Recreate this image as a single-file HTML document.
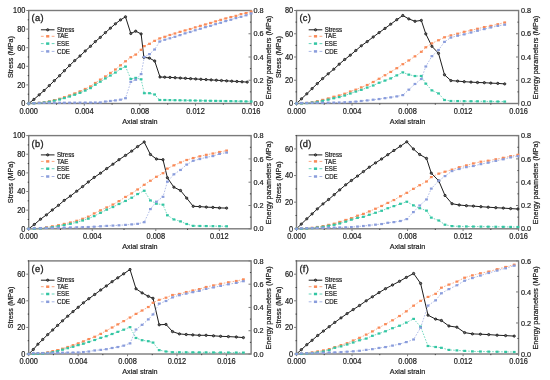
<!DOCTYPE html>
<html><head><meta charset="utf-8"><style>
html,body{margin:0;padding:0;background:#fff;}
svg{display:block;will-change:transform;}
text{font-family:"Liberation Sans", sans-serif;fill:#222;stroke:#222;stroke-width:0.2px;}
</style></head><body>
<svg width="550" height="380" viewBox="0 0 550 380">
<rect width="550" height="380" fill="#fff"/>
<rect x="28.7" y="10.5" width="222.4" height="93" fill="none" stroke="#7a7a7a" stroke-width="1.4"/>
<line x1="28.7" y1="103.5" x2="28.7" y2="105.7" stroke="#7a7a7a" stroke-width="1"/>
<text transform="translate(28.7,113.65) scale(1.0,1.14)" text-anchor="middle" font-size="7.4">0.000</text>
<line x1="84.3" y1="103.5" x2="84.3" y2="105.7" stroke="#7a7a7a" stroke-width="1"/>
<text transform="translate(84.3,113.65) scale(1.0,1.14)" text-anchor="middle" font-size="7.4">0.004</text>
<line x1="139.9" y1="103.5" x2="139.9" y2="105.7" stroke="#7a7a7a" stroke-width="1"/>
<text transform="translate(139.9,113.65) scale(1.0,1.14)" text-anchor="middle" font-size="7.4">0.008</text>
<line x1="195.5" y1="103.5" x2="195.5" y2="105.7" stroke="#7a7a7a" stroke-width="1"/>
<text transform="translate(195.5,113.65) scale(1.0,1.14)" text-anchor="middle" font-size="7.4">0.012</text>
<line x1="251.1" y1="103.5" x2="251.1" y2="105.7" stroke="#7a7a7a" stroke-width="1"/>
<text transform="translate(251.1,113.65) scale(1.0,1.14)" text-anchor="middle" font-size="7.4">0.016</text>
<line x1="56.5" y1="103.5" x2="56.5" y2="104.7" stroke="#333" stroke-width="0.9"/>
<line x1="112.1" y1="103.5" x2="112.1" y2="104.7" stroke="#333" stroke-width="0.9"/>
<line x1="167.7" y1="103.5" x2="167.7" y2="104.7" stroke="#333" stroke-width="0.9"/>
<line x1="223.3" y1="103.5" x2="223.3" y2="104.7" stroke="#333" stroke-width="0.9"/>
<line x1="26.3" y1="103.5" x2="28.7" y2="103.5" stroke="#7a7a7a" stroke-width="1"/>
<text transform="translate(25.3,106.3) scale(1.0,1.14)" text-anchor="end" font-size="7.35">0</text>
<line x1="26.3" y1="84.9" x2="28.7" y2="84.9" stroke="#7a7a7a" stroke-width="1"/>
<text transform="translate(25.3,87.7) scale(1.0,1.14)" text-anchor="end" font-size="7.35">20</text>
<line x1="26.3" y1="66.3" x2="28.7" y2="66.3" stroke="#7a7a7a" stroke-width="1"/>
<text transform="translate(25.3,69.1) scale(1.0,1.14)" text-anchor="end" font-size="7.35">40</text>
<line x1="26.3" y1="47.7" x2="28.7" y2="47.7" stroke="#7a7a7a" stroke-width="1"/>
<text transform="translate(25.3,50.5) scale(1.0,1.14)" text-anchor="end" font-size="7.35">60</text>
<line x1="26.3" y1="29.1" x2="28.7" y2="29.1" stroke="#7a7a7a" stroke-width="1"/>
<text transform="translate(25.3,31.9) scale(1.0,1.14)" text-anchor="end" font-size="7.35">80</text>
<line x1="26.3" y1="10.5" x2="28.7" y2="10.5" stroke="#7a7a7a" stroke-width="1"/>
<text transform="translate(25.3,13.3) scale(1.0,1.14)" text-anchor="end" font-size="7.35">100</text>
<line x1="27.7" y1="94.2" x2="29" y2="94.2" stroke="#333" stroke-width="0.9"/>
<line x1="27.7" y1="75.6" x2="29" y2="75.6" stroke="#333" stroke-width="0.9"/>
<line x1="27.7" y1="57" x2="29" y2="57" stroke="#333" stroke-width="0.9"/>
<line x1="27.7" y1="38.4" x2="29" y2="38.4" stroke="#333" stroke-width="0.9"/>
<line x1="27.7" y1="19.8" x2="29" y2="19.8" stroke="#333" stroke-width="0.9"/>
<line x1="248.5" y1="103.5" x2="251.1" y2="103.5" stroke="#7a7a7a" stroke-width="1"/>
<text transform="translate(253.5,106.1) scale(1.0,1.03)" font-size="7.3">0.0</text>
<line x1="248.5" y1="80.25" x2="251.1" y2="80.25" stroke="#7a7a7a" stroke-width="1"/>
<text transform="translate(253.5,82.85) scale(1.0,1.03)" font-size="7.3">0.2</text>
<line x1="248.5" y1="57" x2="251.1" y2="57" stroke="#7a7a7a" stroke-width="1"/>
<text transform="translate(253.5,59.6) scale(1.0,1.03)" font-size="7.3">0.4</text>
<line x1="248.5" y1="33.75" x2="251.1" y2="33.75" stroke="#7a7a7a" stroke-width="1"/>
<text transform="translate(253.5,36.35) scale(1.0,1.03)" font-size="7.3">0.6</text>
<line x1="248.5" y1="10.5" x2="251.1" y2="10.5" stroke="#7a7a7a" stroke-width="1"/>
<text transform="translate(253.5,13.1) scale(1.0,1.03)" font-size="7.3">0.8</text>
<line x1="249.9" y1="91.88" x2="251.1" y2="91.88" stroke="#333" stroke-width="0.9"/>
<line x1="249.9" y1="68.62" x2="251.1" y2="68.62" stroke="#333" stroke-width="0.9"/>
<line x1="249.9" y1="45.38" x2="251.1" y2="45.38" stroke="#333" stroke-width="0.9"/>
<line x1="249.9" y1="22.13" x2="251.1" y2="22.13" stroke="#333" stroke-width="0.9"/>
<text transform="translate(139.9,123.85) scale(1.0,1.06)" text-anchor="middle" font-size="7.25">Axial strain</text>
<text transform="translate(13,57) rotate(-90) scale(1.0,1.12)" text-anchor="middle" font-size="7.2">Stress (MPa)</text>
<text transform="translate(270.7,57.5) rotate(-90) scale(1.0,1.1)" text-anchor="middle" font-size="7.25">Energy parameters (MPa)</text>
<text style="stroke-width:0.32px;letter-spacing:0.3px" transform="translate(31.6,21.4) scale(1.0,0.92)" font-size="9.3">(a)</text>
<path d="M28.7,103.5 L33.9,99.4 L39.2,94.8 L44.1,90.5 L49.3,85.6 L54.3,80.7 L59.6,75.7 L64.4,70.7 L69.6,65.5 L74.7,60.6 L80,56 L85.2,51 L90.5,46.3 L95.3,41.6 L100.3,37.4 L105.4,32.6 L110.4,28.2 L115.4,23.8 L120.5,19.9 L125.5,16.8 L130.8,33.5 L135.7,31.2 L141.1,33.9 L143.9,57.3 L149.4,58.1 L154.7,61 L160,77 L164.7,77.2 L170,77.4 L175.15,77.71 L180.29,78.03 L185.44,78.34 L190.59,78.65 L195.73,78.97 L200.88,79.28 L206.03,79.59 L211.17,79.91 L216.32,80.22 L221.47,80.53 L226.61,80.85 L231.76,81.16 L236.91,81.47 L242.05,81.79 L247.2,82.1" fill="none" stroke="#1e1e1e" stroke-width="1" stroke-linejoin="round"/>
<circle cx="33.9" cy="99.4" r="1.15" fill="#666" stroke="#111" stroke-width="0.75"/>
<circle cx="39.2" cy="94.8" r="1.15" fill="#666" stroke="#111" stroke-width="0.75"/>
<circle cx="44.1" cy="90.5" r="1.15" fill="#666" stroke="#111" stroke-width="0.75"/>
<circle cx="49.3" cy="85.6" r="1.15" fill="#666" stroke="#111" stroke-width="0.75"/>
<circle cx="54.3" cy="80.7" r="1.15" fill="#666" stroke="#111" stroke-width="0.75"/>
<circle cx="59.6" cy="75.7" r="1.15" fill="#666" stroke="#111" stroke-width="0.75"/>
<circle cx="64.4" cy="70.7" r="1.15" fill="#666" stroke="#111" stroke-width="0.75"/>
<circle cx="69.6" cy="65.5" r="1.15" fill="#666" stroke="#111" stroke-width="0.75"/>
<circle cx="74.7" cy="60.6" r="1.15" fill="#666" stroke="#111" stroke-width="0.75"/>
<circle cx="80" cy="56" r="1.15" fill="#666" stroke="#111" stroke-width="0.75"/>
<circle cx="85.2" cy="51" r="1.15" fill="#666" stroke="#111" stroke-width="0.75"/>
<circle cx="90.5" cy="46.3" r="1.15" fill="#666" stroke="#111" stroke-width="0.75"/>
<circle cx="95.3" cy="41.6" r="1.15" fill="#666" stroke="#111" stroke-width="0.75"/>
<circle cx="100.3" cy="37.4" r="1.15" fill="#666" stroke="#111" stroke-width="0.75"/>
<circle cx="105.4" cy="32.6" r="1.15" fill="#666" stroke="#111" stroke-width="0.75"/>
<circle cx="110.4" cy="28.2" r="1.15" fill="#666" stroke="#111" stroke-width="0.75"/>
<circle cx="115.4" cy="23.8" r="1.15" fill="#666" stroke="#111" stroke-width="0.75"/>
<circle cx="120.5" cy="19.9" r="1.15" fill="#666" stroke="#111" stroke-width="0.75"/>
<circle cx="125.5" cy="16.8" r="1.15" fill="#666" stroke="#111" stroke-width="0.75"/>
<circle cx="130.8" cy="33.5" r="1.15" fill="#666" stroke="#111" stroke-width="0.75"/>
<circle cx="135.7" cy="31.2" r="1.15" fill="#666" stroke="#111" stroke-width="0.75"/>
<circle cx="141.1" cy="33.9" r="1.15" fill="#666" stroke="#111" stroke-width="0.75"/>
<circle cx="143.9" cy="57.3" r="1.15" fill="#666" stroke="#111" stroke-width="0.75"/>
<circle cx="149.4" cy="58.1" r="1.15" fill="#666" stroke="#111" stroke-width="0.75"/>
<circle cx="154.7" cy="61" r="1.15" fill="#666" stroke="#111" stroke-width="0.75"/>
<circle cx="160" cy="77" r="1.15" fill="#666" stroke="#111" stroke-width="0.75"/>
<circle cx="164.7" cy="77.2" r="1.15" fill="#666" stroke="#111" stroke-width="0.75"/>
<circle cx="170" cy="77.4" r="1.15" fill="#666" stroke="#111" stroke-width="0.75"/>
<circle cx="175.15" cy="77.71" r="1.15" fill="#666" stroke="#111" stroke-width="0.75"/>
<circle cx="180.29" cy="78.03" r="1.15" fill="#666" stroke="#111" stroke-width="0.75"/>
<circle cx="185.44" cy="78.34" r="1.15" fill="#666" stroke="#111" stroke-width="0.75"/>
<circle cx="190.59" cy="78.65" r="1.15" fill="#666" stroke="#111" stroke-width="0.75"/>
<circle cx="195.73" cy="78.97" r="1.15" fill="#666" stroke="#111" stroke-width="0.75"/>
<circle cx="200.88" cy="79.28" r="1.15" fill="#666" stroke="#111" stroke-width="0.75"/>
<circle cx="206.03" cy="79.59" r="1.15" fill="#666" stroke="#111" stroke-width="0.75"/>
<circle cx="211.17" cy="79.91" r="1.15" fill="#666" stroke="#111" stroke-width="0.75"/>
<circle cx="216.32" cy="80.22" r="1.15" fill="#666" stroke="#111" stroke-width="0.75"/>
<circle cx="221.47" cy="80.53" r="1.15" fill="#666" stroke="#111" stroke-width="0.75"/>
<circle cx="226.61" cy="80.85" r="1.15" fill="#666" stroke="#111" stroke-width="0.75"/>
<circle cx="231.76" cy="81.16" r="1.15" fill="#666" stroke="#111" stroke-width="0.75"/>
<circle cx="236.91" cy="81.47" r="1.15" fill="#666" stroke="#111" stroke-width="0.75"/>
<circle cx="242.05" cy="81.79" r="1.15" fill="#666" stroke="#111" stroke-width="0.75"/>
<circle cx="247.2" cy="82.1" r="1.15" fill="#666" stroke="#111" stroke-width="0.75"/>
<path d="M28.7,103.5 L33.9,103.2 L39.2,102.78 L44.1,102.18 L49.3,101.34 L54.3,100.11 L59.6,98.8 L64.4,97.18 L69.6,95.42 L74.7,93.42 L80,91.32 L85.2,88.97 L90.5,86.4 L95.3,82.97 L100.3,79.61 L105.4,76.42 L110.4,72.93 L115.4,69.5 L120.5,65.3 L125.5,61.3 L130.8,57.24 L135.7,54.6 L141.1,49.82 L144.3,46.13 L149.5,43.84 L154.6,40.86 L159.7,38.4 L164.78,36.8 L169.86,34.99 L174.94,33.49 L180.02,31.83 L185.1,30.43 L190.18,29.03 L195.26,27.38 L200.34,25.85 L205.42,24.45 L210.5,22.96 L215.58,21.37 L220.66,19.87 L225.74,18.42 L230.82,17.05 L235.9,15.87 L240.98,14.08 L246.06,13.11 L251.14,11.6" fill="none" stroke="#f98a58" stroke-width="0.9" stroke-opacity="0.75" stroke-dasharray="1.6,1.4" /><rect x="27.3" y="102.4" width="2.8" height="2.2" fill="#f98a58"/><rect x="32.5" y="102.1" width="2.8" height="2.2" fill="#f98a58"/><rect x="37.8" y="101.68" width="2.8" height="2.2" fill="#f98a58"/><rect x="42.7" y="101.08" width="2.8" height="2.2" fill="#f98a58"/><rect x="47.9" y="100.24" width="2.8" height="2.2" fill="#f98a58"/><rect x="52.9" y="99.01" width="2.8" height="2.2" fill="#f98a58"/><rect x="58.2" y="97.7" width="2.8" height="2.2" fill="#f98a58"/><rect x="63" y="96.08" width="2.8" height="2.2" fill="#f98a58"/><rect x="68.2" y="94.32" width="2.8" height="2.2" fill="#f98a58"/><rect x="73.3" y="92.32" width="2.8" height="2.2" fill="#f98a58"/><rect x="78.6" y="90.22" width="2.8" height="2.2" fill="#f98a58"/><rect x="83.8" y="87.87" width="2.8" height="2.2" fill="#f98a58"/><rect x="89.1" y="85.3" width="2.8" height="2.2" fill="#f98a58"/><rect x="93.9" y="81.87" width="2.8" height="2.2" fill="#f98a58"/><rect x="98.9" y="78.51" width="2.8" height="2.2" fill="#f98a58"/><rect x="104" y="75.32" width="2.8" height="2.2" fill="#f98a58"/><rect x="109" y="71.83" width="2.8" height="2.2" fill="#f98a58"/><rect x="114" y="68.4" width="2.8" height="2.2" fill="#f98a58"/><rect x="119.1" y="64.2" width="2.8" height="2.2" fill="#f98a58"/><rect x="124.1" y="60.2" width="2.8" height="2.2" fill="#f98a58"/><rect x="129.4" y="56.14" width="2.8" height="2.2" fill="#f98a58"/><rect x="134.3" y="53.5" width="2.8" height="2.2" fill="#f98a58"/><rect x="139.7" y="48.72" width="2.8" height="2.2" fill="#f98a58"/><rect x="142.9" y="45.03" width="2.8" height="2.2" fill="#f98a58"/><rect x="148.1" y="42.74" width="2.8" height="2.2" fill="#f98a58"/><rect x="153.2" y="39.76" width="2.8" height="2.2" fill="#f98a58"/><rect x="158.3" y="37.3" width="2.8" height="2.2" fill="#f98a58"/><rect x="163.38" y="35.7" width="2.8" height="2.2" fill="#f98a58"/><rect x="168.46" y="33.89" width="2.8" height="2.2" fill="#f98a58"/><rect x="173.54" y="32.39" width="2.8" height="2.2" fill="#f98a58"/><rect x="178.62" y="30.73" width="2.8" height="2.2" fill="#f98a58"/><rect x="183.7" y="29.33" width="2.8" height="2.2" fill="#f98a58"/><rect x="188.78" y="27.93" width="2.8" height="2.2" fill="#f98a58"/><rect x="193.86" y="26.28" width="2.8" height="2.2" fill="#f98a58"/><rect x="198.94" y="24.75" width="2.8" height="2.2" fill="#f98a58"/><rect x="204.02" y="23.35" width="2.8" height="2.2" fill="#f98a58"/><rect x="209.1" y="21.86" width="2.8" height="2.2" fill="#f98a58"/><rect x="214.18" y="20.27" width="2.8" height="2.2" fill="#f98a58"/><rect x="219.26" y="18.77" width="2.8" height="2.2" fill="#f98a58"/><rect x="224.34" y="17.32" width="2.8" height="2.2" fill="#f98a58"/><rect x="229.42" y="15.95" width="2.8" height="2.2" fill="#f98a58"/><rect x="234.5" y="14.77" width="2.8" height="2.2" fill="#f98a58"/><rect x="239.58" y="12.98" width="2.8" height="2.2" fill="#f98a58"/><rect x="244.66" y="12.01" width="2.8" height="2.2" fill="#f98a58"/><rect x="249.74" y="10.5" width="2.8" height="2.2" fill="#f98a58"/>
<path d="M28.7,103.5 L33.9,103.3 L39.2,102.98 L44.1,102.49 L49.3,101.75 L54.3,100.66 L59.6,99.5 L64.4,98.08 L69.6,96.53 L74.7,94.73 L80,92.83 L85.2,90.58 L90.5,88.11 L95.3,84.74 L100.3,81.71 L105.4,78.43 L110.4,75.54 L115.4,72.56 L120.5,68.95 L125.5,66.6 L130.8,78.94 L135.7,77.92 L141.1,79.3 L144.3,93.2 L149.5,93.2 L154.6,94.5 L159.7,100 L164.78,100.01 L169.86,100.1 L174.94,100.19 L180.02,100.27 L185.1,100.36 L190.18,100.45 L195.26,100.53 L200.34,100.62 L205.42,100.71 L210.5,100.8 L215.58,100.88 L220.66,100.97 L225.74,101.06 L230.82,101.15 L235.9,101.23 L240.98,101.32 L246.06,101.41 L251.14,101.49" fill="none" stroke="#33c6a3" stroke-width="0.9" stroke-opacity="0.75" stroke-dasharray="1.6,1.4" /><rect x="27.3" y="102.4" width="2.8" height="2.2" fill="#33c6a3"/><rect x="32.5" y="102.2" width="2.8" height="2.2" fill="#33c6a3"/><rect x="37.8" y="101.88" width="2.8" height="2.2" fill="#33c6a3"/><rect x="42.7" y="101.39" width="2.8" height="2.2" fill="#33c6a3"/><rect x="47.9" y="100.65" width="2.8" height="2.2" fill="#33c6a3"/><rect x="52.9" y="99.56" width="2.8" height="2.2" fill="#33c6a3"/><rect x="58.2" y="98.4" width="2.8" height="2.2" fill="#33c6a3"/><rect x="63" y="96.98" width="2.8" height="2.2" fill="#33c6a3"/><rect x="68.2" y="95.43" width="2.8" height="2.2" fill="#33c6a3"/><rect x="73.3" y="93.63" width="2.8" height="2.2" fill="#33c6a3"/><rect x="78.6" y="91.73" width="2.8" height="2.2" fill="#33c6a3"/><rect x="83.8" y="89.48" width="2.8" height="2.2" fill="#33c6a3"/><rect x="89.1" y="87.01" width="2.8" height="2.2" fill="#33c6a3"/><rect x="93.9" y="83.64" width="2.8" height="2.2" fill="#33c6a3"/><rect x="98.9" y="80.61" width="2.8" height="2.2" fill="#33c6a3"/><rect x="104" y="77.33" width="2.8" height="2.2" fill="#33c6a3"/><rect x="109" y="74.44" width="2.8" height="2.2" fill="#33c6a3"/><rect x="114" y="71.46" width="2.8" height="2.2" fill="#33c6a3"/><rect x="119.1" y="67.85" width="2.8" height="2.2" fill="#33c6a3"/><rect x="124.1" y="65.5" width="2.8" height="2.2" fill="#33c6a3"/><rect x="129.4" y="77.84" width="2.8" height="2.2" fill="#33c6a3"/><rect x="134.3" y="76.82" width="2.8" height="2.2" fill="#33c6a3"/><rect x="139.7" y="78.2" width="2.8" height="2.2" fill="#33c6a3"/><rect x="142.9" y="92.1" width="2.8" height="2.2" fill="#33c6a3"/><rect x="148.1" y="92.1" width="2.8" height="2.2" fill="#33c6a3"/><rect x="153.2" y="93.4" width="2.8" height="2.2" fill="#33c6a3"/><rect x="158.3" y="98.9" width="2.8" height="2.2" fill="#33c6a3"/><rect x="163.38" y="98.91" width="2.8" height="2.2" fill="#33c6a3"/><rect x="168.46" y="99" width="2.8" height="2.2" fill="#33c6a3"/><rect x="173.54" y="99.09" width="2.8" height="2.2" fill="#33c6a3"/><rect x="178.62" y="99.17" width="2.8" height="2.2" fill="#33c6a3"/><rect x="183.7" y="99.26" width="2.8" height="2.2" fill="#33c6a3"/><rect x="188.78" y="99.35" width="2.8" height="2.2" fill="#33c6a3"/><rect x="193.86" y="99.43" width="2.8" height="2.2" fill="#33c6a3"/><rect x="198.94" y="99.52" width="2.8" height="2.2" fill="#33c6a3"/><rect x="204.02" y="99.61" width="2.8" height="2.2" fill="#33c6a3"/><rect x="209.1" y="99.7" width="2.8" height="2.2" fill="#33c6a3"/><rect x="214.18" y="99.78" width="2.8" height="2.2" fill="#33c6a3"/><rect x="219.26" y="99.87" width="2.8" height="2.2" fill="#33c6a3"/><rect x="224.34" y="99.96" width="2.8" height="2.2" fill="#33c6a3"/><rect x="229.42" y="100.05" width="2.8" height="2.2" fill="#33c6a3"/><rect x="234.5" y="100.13" width="2.8" height="2.2" fill="#33c6a3"/><rect x="239.58" y="100.22" width="2.8" height="2.2" fill="#33c6a3"/><rect x="244.66" y="100.31" width="2.8" height="2.2" fill="#33c6a3"/><rect x="249.74" y="100.39" width="2.8" height="2.2" fill="#33c6a3"/>
<path d="M28.7,103.5 L33.9,103.22 L39.2,102.94 L44.1,102.87 L49.3,102.84 L54.3,102.8 L59.6,102.77 L64.4,102.74 L69.6,102.7 L74.7,102.67 L80,102.63 L85.2,102.6 L90.5,102.56 L95.3,102.53 L100.3,102.45 L105.4,101.55 L110.4,100.97 L115.4,100.4 L120.5,99.67 L125.5,98.2 L130.8,81.87 L135.7,79.74 L141.1,74.1 L144.3,57.09 L149.5,54.11 L154.6,49.49 L159.7,41.53 L164.78,39.72 L169.86,38.29 L174.94,36.79 L180.02,35.13 L185.1,33.34 L190.18,31.98 L195.26,30.28 L200.34,28.75 L205.42,27.16 L210.5,25.85 L215.58,24.17 L220.66,22.77 L225.74,21.09 L230.82,19.75 L235.9,18.1 L240.98,16.85 L246.06,15.31 L251.14,13.4" fill="none" stroke="#8a9ddc" stroke-width="0.9" stroke-opacity="0.75" stroke-dasharray="1.6,1.4" /><rect x="27.3" y="102.4" width="2.8" height="2.2" fill="#8a9ddc"/><rect x="32.5" y="102.12" width="2.8" height="2.2" fill="#8a9ddc"/><rect x="37.8" y="101.84" width="2.8" height="2.2" fill="#8a9ddc"/><rect x="42.7" y="101.77" width="2.8" height="2.2" fill="#8a9ddc"/><rect x="47.9" y="101.74" width="2.8" height="2.2" fill="#8a9ddc"/><rect x="52.9" y="101.7" width="2.8" height="2.2" fill="#8a9ddc"/><rect x="58.2" y="101.67" width="2.8" height="2.2" fill="#8a9ddc"/><rect x="63" y="101.64" width="2.8" height="2.2" fill="#8a9ddc"/><rect x="68.2" y="101.6" width="2.8" height="2.2" fill="#8a9ddc"/><rect x="73.3" y="101.57" width="2.8" height="2.2" fill="#8a9ddc"/><rect x="78.6" y="101.53" width="2.8" height="2.2" fill="#8a9ddc"/><rect x="83.8" y="101.5" width="2.8" height="2.2" fill="#8a9ddc"/><rect x="89.1" y="101.46" width="2.8" height="2.2" fill="#8a9ddc"/><rect x="93.9" y="101.43" width="2.8" height="2.2" fill="#8a9ddc"/><rect x="98.9" y="101.35" width="2.8" height="2.2" fill="#8a9ddc"/><rect x="104" y="100.45" width="2.8" height="2.2" fill="#8a9ddc"/><rect x="109" y="99.87" width="2.8" height="2.2" fill="#8a9ddc"/><rect x="114" y="99.3" width="2.8" height="2.2" fill="#8a9ddc"/><rect x="119.1" y="98.57" width="2.8" height="2.2" fill="#8a9ddc"/><rect x="124.1" y="97.1" width="2.8" height="2.2" fill="#8a9ddc"/><rect x="129.4" y="80.77" width="2.8" height="2.2" fill="#8a9ddc"/><rect x="134.3" y="78.64" width="2.8" height="2.2" fill="#8a9ddc"/><rect x="139.7" y="73" width="2.8" height="2.2" fill="#8a9ddc"/><rect x="142.9" y="55.99" width="2.8" height="2.2" fill="#8a9ddc"/><rect x="148.1" y="53.01" width="2.8" height="2.2" fill="#8a9ddc"/><rect x="153.2" y="48.39" width="2.8" height="2.2" fill="#8a9ddc"/><rect x="158.3" y="40.43" width="2.8" height="2.2" fill="#8a9ddc"/><rect x="163.38" y="38.62" width="2.8" height="2.2" fill="#8a9ddc"/><rect x="168.46" y="37.19" width="2.8" height="2.2" fill="#8a9ddc"/><rect x="173.54" y="35.69" width="2.8" height="2.2" fill="#8a9ddc"/><rect x="178.62" y="34.03" width="2.8" height="2.2" fill="#8a9ddc"/><rect x="183.7" y="32.24" width="2.8" height="2.2" fill="#8a9ddc"/><rect x="188.78" y="30.88" width="2.8" height="2.2" fill="#8a9ddc"/><rect x="193.86" y="29.18" width="2.8" height="2.2" fill="#8a9ddc"/><rect x="198.94" y="27.65" width="2.8" height="2.2" fill="#8a9ddc"/><rect x="204.02" y="26.06" width="2.8" height="2.2" fill="#8a9ddc"/><rect x="209.1" y="24.75" width="2.8" height="2.2" fill="#8a9ddc"/><rect x="214.18" y="23.07" width="2.8" height="2.2" fill="#8a9ddc"/><rect x="219.26" y="21.67" width="2.8" height="2.2" fill="#8a9ddc"/><rect x="224.34" y="19.99" width="2.8" height="2.2" fill="#8a9ddc"/><rect x="229.42" y="18.65" width="2.8" height="2.2" fill="#8a9ddc"/><rect x="234.5" y="17" width="2.8" height="2.2" fill="#8a9ddc"/><rect x="239.58" y="15.75" width="2.8" height="2.2" fill="#8a9ddc"/><rect x="244.66" y="14.21" width="2.8" height="2.2" fill="#8a9ddc"/><rect x="249.74" y="12.3" width="2.8" height="2.2" fill="#8a9ddc"/>
<line x1="40.9" y1="29.8" x2="54.5" y2="29.8" stroke="#1e1e1e" stroke-width="1"/>
<circle cx="47.7" cy="29.8" r="1.15" fill="#666" stroke="#111" stroke-width="0.75"/>
<text style="stroke-width:0.22px" transform="translate(57,31.95) scale(0.97,1.0)" font-size="6.3">Stress</text>
<line x1="40.9" y1="36.3" x2="43.7" y2="36.3" stroke="#f98a58" stroke-opacity="0.75" stroke-width="1"/>
<line x1="51.7" y1="36.3" x2="54.5" y2="36.3" stroke="#f98a58" stroke-opacity="0.75" stroke-width="1"/>
<rect x="46.1" y="35.05" width="3.2" height="2.5" fill="#f98a58"/>
<text style="stroke-width:0.22px" transform="translate(57,38.45) scale(0.97,1.0)" font-size="6.3">TAE</text>
<line x1="40.9" y1="43.6" x2="43.7" y2="43.6" stroke="#33c6a3" stroke-opacity="0.75" stroke-width="1"/>
<line x1="51.7" y1="43.6" x2="54.5" y2="43.6" stroke="#33c6a3" stroke-opacity="0.75" stroke-width="1"/>
<rect x="46.1" y="42.35" width="3.2" height="2.5" fill="#33c6a3"/>
<text style="stroke-width:0.22px" transform="translate(57,45.75) scale(0.97,1.0)" font-size="6.3">ESE</text>
<line x1="40.9" y1="51.4" x2="43.7" y2="51.4" stroke="#8a9ddc" stroke-opacity="0.75" stroke-width="1"/>
<line x1="51.7" y1="51.4" x2="54.5" y2="51.4" stroke="#8a9ddc" stroke-opacity="0.75" stroke-width="1"/>
<rect x="46.1" y="50.15" width="3.2" height="2.5" fill="#8a9ddc"/>
<text style="stroke-width:0.22px" transform="translate(57,53.55) scale(0.97,1.0)" font-size="6.3">CDE</text>
<rect x="296.5" y="10.5" width="222.1" height="93" fill="none" stroke="#7a7a7a" stroke-width="1.4"/>
<line x1="296.5" y1="103.5" x2="296.5" y2="105.7" stroke="#7a7a7a" stroke-width="1"/>
<text transform="translate(296.5,113.65) scale(1.0,1.14)" text-anchor="middle" font-size="7.4">0.000</text>
<line x1="352.02" y1="103.5" x2="352.02" y2="105.7" stroke="#7a7a7a" stroke-width="1"/>
<text transform="translate(352.02,113.65) scale(1.0,1.14)" text-anchor="middle" font-size="7.4">0.004</text>
<line x1="407.55" y1="103.5" x2="407.55" y2="105.7" stroke="#7a7a7a" stroke-width="1"/>
<text transform="translate(407.55,113.65) scale(1.0,1.14)" text-anchor="middle" font-size="7.4">0.008</text>
<line x1="463.08" y1="103.5" x2="463.08" y2="105.7" stroke="#7a7a7a" stroke-width="1"/>
<text transform="translate(463.08,113.65) scale(1.0,1.14)" text-anchor="middle" font-size="7.4">0.012</text>
<line x1="518.6" y1="103.5" x2="518.6" y2="105.7" stroke="#7a7a7a" stroke-width="1"/>
<text transform="translate(518.6,113.65) scale(1.0,1.14)" text-anchor="middle" font-size="7.4">0.016</text>
<line x1="324.26" y1="103.5" x2="324.26" y2="104.7" stroke="#333" stroke-width="0.9"/>
<line x1="379.79" y1="103.5" x2="379.79" y2="104.7" stroke="#333" stroke-width="0.9"/>
<line x1="435.31" y1="103.5" x2="435.31" y2="104.7" stroke="#333" stroke-width="0.9"/>
<line x1="490.84" y1="103.5" x2="490.84" y2="104.7" stroke="#333" stroke-width="0.9"/>
<line x1="294.1" y1="103.5" x2="296.5" y2="103.5" stroke="#7a7a7a" stroke-width="1"/>
<text transform="translate(293.1,106.3) scale(1.0,1.14)" text-anchor="end" font-size="7.35">0</text>
<line x1="294.1" y1="80.25" x2="296.5" y2="80.25" stroke="#7a7a7a" stroke-width="1"/>
<text transform="translate(293.1,83.05) scale(1.0,1.14)" text-anchor="end" font-size="7.35">20</text>
<line x1="294.1" y1="57" x2="296.5" y2="57" stroke="#7a7a7a" stroke-width="1"/>
<text transform="translate(293.1,59.8) scale(1.0,1.14)" text-anchor="end" font-size="7.35">40</text>
<line x1="294.1" y1="33.75" x2="296.5" y2="33.75" stroke="#7a7a7a" stroke-width="1"/>
<text transform="translate(293.1,36.55) scale(1.0,1.14)" text-anchor="end" font-size="7.35">60</text>
<line x1="294.1" y1="10.5" x2="296.5" y2="10.5" stroke="#7a7a7a" stroke-width="1"/>
<text transform="translate(293.1,13.3) scale(1.0,1.14)" text-anchor="end" font-size="7.35">80</text>
<line x1="295.5" y1="91.88" x2="296.8" y2="91.88" stroke="#333" stroke-width="0.9"/>
<line x1="295.5" y1="68.62" x2="296.8" y2="68.62" stroke="#333" stroke-width="0.9"/>
<line x1="295.5" y1="45.38" x2="296.8" y2="45.38" stroke="#333" stroke-width="0.9"/>
<line x1="295.5" y1="22.12" x2="296.8" y2="22.12" stroke="#333" stroke-width="0.9"/>
<line x1="516" y1="103.5" x2="518.6" y2="103.5" stroke="#7a7a7a" stroke-width="1"/>
<text transform="translate(521,106.1) scale(1.0,1.03)" font-size="7.3">0.0</text>
<line x1="516" y1="80.25" x2="518.6" y2="80.25" stroke="#7a7a7a" stroke-width="1"/>
<text transform="translate(521,82.85) scale(1.0,1.03)" font-size="7.3">0.2</text>
<line x1="516" y1="57" x2="518.6" y2="57" stroke="#7a7a7a" stroke-width="1"/>
<text transform="translate(521,59.6) scale(1.0,1.03)" font-size="7.3">0.4</text>
<line x1="516" y1="33.75" x2="518.6" y2="33.75" stroke="#7a7a7a" stroke-width="1"/>
<text transform="translate(521,36.35) scale(1.0,1.03)" font-size="7.3">0.6</text>
<line x1="516" y1="10.5" x2="518.6" y2="10.5" stroke="#7a7a7a" stroke-width="1"/>
<text transform="translate(521,13.1) scale(1.0,1.03)" font-size="7.3">0.8</text>
<line x1="517.4" y1="91.88" x2="518.6" y2="91.88" stroke="#333" stroke-width="0.9"/>
<line x1="517.4" y1="68.62" x2="518.6" y2="68.62" stroke="#333" stroke-width="0.9"/>
<line x1="517.4" y1="45.38" x2="518.6" y2="45.38" stroke="#333" stroke-width="0.9"/>
<line x1="517.4" y1="22.13" x2="518.6" y2="22.13" stroke="#333" stroke-width="0.9"/>
<text transform="translate(407.55,123.85) scale(1.0,1.06)" text-anchor="middle" font-size="7.25">Axial strain</text>
<text transform="translate(280.8,57) rotate(-90) scale(1.0,1.12)" text-anchor="middle" font-size="7.2">Stress (MPa)</text>
<text transform="translate(538.2,57.5) rotate(-90) scale(1.0,1.1)" text-anchor="middle" font-size="7.25">Energy parameters (MPa)</text>
<text style="stroke-width:0.32px;letter-spacing:0.3px" transform="translate(299.4,21.4) scale(1.0,0.92)" font-size="9.3">(c)</text>
<path d="M296.5,103.5 L301.5,98.8 L306.8,93.8 L312.1,88.6 L317.3,83.6 L322.6,78.6 L328.2,73.8 L333.8,69.2 L339.2,64.2 L344.7,59.5 L350.3,55.2 L355.8,50.5 L361.3,45.8 L367.2,41.6 L373.2,37 L379.1,32.6 L385,28.4 L390.7,24.2 L396.8,19.7 L402.8,15.5 L408.8,18.9 L415,21.3 L421.3,20.4 L425.8,33.9 L431.9,46.3 L438.5,53.3 L444.5,74.8 L450.9,80.6 L457.6,81.1 L464.2,81.7 L471,82.1 L477.5,82.5 L484.3,82.7 L490.8,83.1 L497.8,83.4 L504.7,83.9" fill="none" stroke="#1e1e1e" stroke-width="1" stroke-linejoin="round"/>
<circle cx="301.5" cy="98.8" r="1.15" fill="#666" stroke="#111" stroke-width="0.75"/>
<circle cx="306.8" cy="93.8" r="1.15" fill="#666" stroke="#111" stroke-width="0.75"/>
<circle cx="312.1" cy="88.6" r="1.15" fill="#666" stroke="#111" stroke-width="0.75"/>
<circle cx="317.3" cy="83.6" r="1.15" fill="#666" stroke="#111" stroke-width="0.75"/>
<circle cx="322.6" cy="78.6" r="1.15" fill="#666" stroke="#111" stroke-width="0.75"/>
<circle cx="328.2" cy="73.8" r="1.15" fill="#666" stroke="#111" stroke-width="0.75"/>
<circle cx="333.8" cy="69.2" r="1.15" fill="#666" stroke="#111" stroke-width="0.75"/>
<circle cx="339.2" cy="64.2" r="1.15" fill="#666" stroke="#111" stroke-width="0.75"/>
<circle cx="344.7" cy="59.5" r="1.15" fill="#666" stroke="#111" stroke-width="0.75"/>
<circle cx="350.3" cy="55.2" r="1.15" fill="#666" stroke="#111" stroke-width="0.75"/>
<circle cx="355.8" cy="50.5" r="1.15" fill="#666" stroke="#111" stroke-width="0.75"/>
<circle cx="361.3" cy="45.8" r="1.15" fill="#666" stroke="#111" stroke-width="0.75"/>
<circle cx="367.2" cy="41.6" r="1.15" fill="#666" stroke="#111" stroke-width="0.75"/>
<circle cx="373.2" cy="37" r="1.15" fill="#666" stroke="#111" stroke-width="0.75"/>
<circle cx="379.1" cy="32.6" r="1.15" fill="#666" stroke="#111" stroke-width="0.75"/>
<circle cx="385" cy="28.4" r="1.15" fill="#666" stroke="#111" stroke-width="0.75"/>
<circle cx="390.7" cy="24.2" r="1.15" fill="#666" stroke="#111" stroke-width="0.75"/>
<circle cx="396.8" cy="19.7" r="1.15" fill="#666" stroke="#111" stroke-width="0.75"/>
<circle cx="402.8" cy="15.5" r="1.15" fill="#666" stroke="#111" stroke-width="0.75"/>
<circle cx="408.8" cy="18.9" r="1.15" fill="#666" stroke="#111" stroke-width="0.75"/>
<circle cx="415" cy="21.3" r="1.15" fill="#666" stroke="#111" stroke-width="0.75"/>
<circle cx="421.3" cy="20.4" r="1.15" fill="#666" stroke="#111" stroke-width="0.75"/>
<circle cx="425.8" cy="33.9" r="1.15" fill="#666" stroke="#111" stroke-width="0.75"/>
<circle cx="431.9" cy="46.3" r="1.15" fill="#666" stroke="#111" stroke-width="0.75"/>
<circle cx="438.5" cy="53.3" r="1.15" fill="#666" stroke="#111" stroke-width="0.75"/>
<circle cx="444.5" cy="74.8" r="1.15" fill="#666" stroke="#111" stroke-width="0.75"/>
<circle cx="450.9" cy="80.6" r="1.15" fill="#666" stroke="#111" stroke-width="0.75"/>
<circle cx="457.6" cy="81.1" r="1.15" fill="#666" stroke="#111" stroke-width="0.75"/>
<circle cx="464.2" cy="81.7" r="1.15" fill="#666" stroke="#111" stroke-width="0.75"/>
<circle cx="471" cy="82.1" r="1.15" fill="#666" stroke="#111" stroke-width="0.75"/>
<circle cx="477.5" cy="82.5" r="1.15" fill="#666" stroke="#111" stroke-width="0.75"/>
<circle cx="484.3" cy="82.7" r="1.15" fill="#666" stroke="#111" stroke-width="0.75"/>
<circle cx="490.8" cy="83.1" r="1.15" fill="#666" stroke="#111" stroke-width="0.75"/>
<circle cx="497.8" cy="83.4" r="1.15" fill="#666" stroke="#111" stroke-width="0.75"/>
<circle cx="504.7" cy="83.9" r="1.15" fill="#666" stroke="#111" stroke-width="0.75"/>
<path d="M296.5,103.5 L301.5,103.3 L306.8,102.9 L312.1,102.2 L317.3,101.2 L322.6,99.88 L328.2,98.44 L333.8,96.74 L339.2,95.47 L344.7,93.72 L350.3,91.5 L355.8,89.67 L361.3,87.38 L367.2,85 L373.2,82 L379.1,78.76 L385,75.23 L390.7,71.92 L396.8,68.2 L402.8,64.2 L408.8,60.43 L415,56.33 L421.3,51.79 L425.8,47.3 L431.9,43.33 L438.5,40.25 L444.5,37.3 L450.9,35.38 L457.6,33.7 L464.2,31.79 L471,30.35 L477.5,28.77 L484.3,27.08 L490.8,25.86 L497.8,24.25 L504.7,22.5" fill="none" stroke="#f98a58" stroke-width="0.9" stroke-opacity="0.75" stroke-dasharray="1.6,1.4" /><rect x="295.1" y="102.4" width="2.8" height="2.2" fill="#f98a58"/><rect x="300.1" y="102.2" width="2.8" height="2.2" fill="#f98a58"/><rect x="305.4" y="101.8" width="2.8" height="2.2" fill="#f98a58"/><rect x="310.7" y="101.1" width="2.8" height="2.2" fill="#f98a58"/><rect x="315.9" y="100.1" width="2.8" height="2.2" fill="#f98a58"/><rect x="321.2" y="98.78" width="2.8" height="2.2" fill="#f98a58"/><rect x="326.8" y="97.34" width="2.8" height="2.2" fill="#f98a58"/><rect x="332.4" y="95.64" width="2.8" height="2.2" fill="#f98a58"/><rect x="337.8" y="94.37" width="2.8" height="2.2" fill="#f98a58"/><rect x="343.3" y="92.62" width="2.8" height="2.2" fill="#f98a58"/><rect x="348.9" y="90.4" width="2.8" height="2.2" fill="#f98a58"/><rect x="354.4" y="88.57" width="2.8" height="2.2" fill="#f98a58"/><rect x="359.9" y="86.28" width="2.8" height="2.2" fill="#f98a58"/><rect x="365.8" y="83.9" width="2.8" height="2.2" fill="#f98a58"/><rect x="371.8" y="80.9" width="2.8" height="2.2" fill="#f98a58"/><rect x="377.7" y="77.66" width="2.8" height="2.2" fill="#f98a58"/><rect x="383.6" y="74.13" width="2.8" height="2.2" fill="#f98a58"/><rect x="389.3" y="70.82" width="2.8" height="2.2" fill="#f98a58"/><rect x="395.4" y="67.1" width="2.8" height="2.2" fill="#f98a58"/><rect x="401.4" y="63.1" width="2.8" height="2.2" fill="#f98a58"/><rect x="407.4" y="59.33" width="2.8" height="2.2" fill="#f98a58"/><rect x="413.6" y="55.23" width="2.8" height="2.2" fill="#f98a58"/><rect x="419.9" y="50.69" width="2.8" height="2.2" fill="#f98a58"/><rect x="424.4" y="46.2" width="2.8" height="2.2" fill="#f98a58"/><rect x="430.5" y="42.23" width="2.8" height="2.2" fill="#f98a58"/><rect x="437.1" y="39.15" width="2.8" height="2.2" fill="#f98a58"/><rect x="443.1" y="36.2" width="2.8" height="2.2" fill="#f98a58"/><rect x="449.5" y="34.28" width="2.8" height="2.2" fill="#f98a58"/><rect x="456.2" y="32.6" width="2.8" height="2.2" fill="#f98a58"/><rect x="462.8" y="30.69" width="2.8" height="2.2" fill="#f98a58"/><rect x="469.6" y="29.25" width="2.8" height="2.2" fill="#f98a58"/><rect x="476.1" y="27.67" width="2.8" height="2.2" fill="#f98a58"/><rect x="482.9" y="25.98" width="2.8" height="2.2" fill="#f98a58"/><rect x="489.4" y="24.76" width="2.8" height="2.2" fill="#f98a58"/><rect x="496.4" y="23.15" width="2.8" height="2.2" fill="#f98a58"/><rect x="503.3" y="21.4" width="2.8" height="2.2" fill="#f98a58"/>
<path d="M296.5,103.5 L301.5,103.4 L306.8,103.1 L312.1,102.6 L317.3,101.87 L322.6,100.86 L328.2,99.65 L333.8,98.25 L339.2,97.09 L344.7,95.53 L350.3,93.5 L355.8,91.57 L361.3,89.86 L367.2,87.6 L373.2,85.5 L379.1,82.75 L385,80.58 L390.7,78.4 L396.8,75.4 L402.8,72.4 L408.8,74.63 L415,76.03 L421.3,75.97 L425.8,83.7 L431.9,90.39 L438.5,93.42 L444.5,100 L450.9,101 L457.6,101.07 L464.2,101.15 L471,101.22 L477.5,101.3 L484.3,101.37 L490.8,101.44 L497.8,101.52 L504.7,101.6" fill="none" stroke="#33c6a3" stroke-width="0.9" stroke-opacity="0.75" stroke-dasharray="1.6,1.4" /><rect x="295.1" y="102.4" width="2.8" height="2.2" fill="#33c6a3"/><rect x="300.1" y="102.3" width="2.8" height="2.2" fill="#33c6a3"/><rect x="305.4" y="102" width="2.8" height="2.2" fill="#33c6a3"/><rect x="310.7" y="101.5" width="2.8" height="2.2" fill="#33c6a3"/><rect x="315.9" y="100.77" width="2.8" height="2.2" fill="#33c6a3"/><rect x="321.2" y="99.76" width="2.8" height="2.2" fill="#33c6a3"/><rect x="326.8" y="98.55" width="2.8" height="2.2" fill="#33c6a3"/><rect x="332.4" y="97.15" width="2.8" height="2.2" fill="#33c6a3"/><rect x="337.8" y="95.99" width="2.8" height="2.2" fill="#33c6a3"/><rect x="343.3" y="94.43" width="2.8" height="2.2" fill="#33c6a3"/><rect x="348.9" y="92.4" width="2.8" height="2.2" fill="#33c6a3"/><rect x="354.4" y="90.47" width="2.8" height="2.2" fill="#33c6a3"/><rect x="359.9" y="88.76" width="2.8" height="2.2" fill="#33c6a3"/><rect x="365.8" y="86.5" width="2.8" height="2.2" fill="#33c6a3"/><rect x="371.8" y="84.4" width="2.8" height="2.2" fill="#33c6a3"/><rect x="377.7" y="81.65" width="2.8" height="2.2" fill="#33c6a3"/><rect x="383.6" y="79.48" width="2.8" height="2.2" fill="#33c6a3"/><rect x="389.3" y="77.3" width="2.8" height="2.2" fill="#33c6a3"/><rect x="395.4" y="74.3" width="2.8" height="2.2" fill="#33c6a3"/><rect x="401.4" y="71.3" width="2.8" height="2.2" fill="#33c6a3"/><rect x="407.4" y="73.53" width="2.8" height="2.2" fill="#33c6a3"/><rect x="413.6" y="74.93" width="2.8" height="2.2" fill="#33c6a3"/><rect x="419.9" y="74.87" width="2.8" height="2.2" fill="#33c6a3"/><rect x="424.4" y="82.6" width="2.8" height="2.2" fill="#33c6a3"/><rect x="430.5" y="89.29" width="2.8" height="2.2" fill="#33c6a3"/><rect x="437.1" y="92.32" width="2.8" height="2.2" fill="#33c6a3"/><rect x="443.1" y="98.9" width="2.8" height="2.2" fill="#33c6a3"/><rect x="449.5" y="99.9" width="2.8" height="2.2" fill="#33c6a3"/><rect x="456.2" y="99.97" width="2.8" height="2.2" fill="#33c6a3"/><rect x="462.8" y="100.05" width="2.8" height="2.2" fill="#33c6a3"/><rect x="469.6" y="100.12" width="2.8" height="2.2" fill="#33c6a3"/><rect x="476.1" y="100.2" width="2.8" height="2.2" fill="#33c6a3"/><rect x="482.9" y="100.27" width="2.8" height="2.2" fill="#33c6a3"/><rect x="489.4" y="100.34" width="2.8" height="2.2" fill="#33c6a3"/><rect x="496.4" y="100.42" width="2.8" height="2.2" fill="#33c6a3"/><rect x="503.3" y="100.5" width="2.8" height="2.2" fill="#33c6a3"/>
<path d="M296.5,103.5 L301.5,103 L306.8,102.93 L312.1,102.86 L317.3,102.79 L322.6,102.73 L328.2,102.65 L333.8,102.58 L339.2,102.51 L344.7,102.27 L350.3,102 L355.8,101.61 L361.3,101 L367.2,100.4 L373.2,99.7 L379.1,99.04 L385,98.16 L390.7,97.37 L396.8,96.4 L402.8,95.1 L408.8,89.68 L415,83.98 L421.3,79.02 L425.8,66.5 L431.9,56.17 L438.5,49.97 L444.5,41.87 L450.9,37.57 L457.6,35.7 L464.2,34.36 L471,32.55 L477.5,30.77 L484.3,29.08 L490.8,27.47 L497.8,25.85 L504.7,24.7" fill="none" stroke="#8a9ddc" stroke-width="0.9" stroke-opacity="0.75" stroke-dasharray="1.6,1.4" /><rect x="295.1" y="102.4" width="2.8" height="2.2" fill="#8a9ddc"/><rect x="300.1" y="101.9" width="2.8" height="2.2" fill="#8a9ddc"/><rect x="305.4" y="101.83" width="2.8" height="2.2" fill="#8a9ddc"/><rect x="310.7" y="101.76" width="2.8" height="2.2" fill="#8a9ddc"/><rect x="315.9" y="101.69" width="2.8" height="2.2" fill="#8a9ddc"/><rect x="321.2" y="101.63" width="2.8" height="2.2" fill="#8a9ddc"/><rect x="326.8" y="101.55" width="2.8" height="2.2" fill="#8a9ddc"/><rect x="332.4" y="101.48" width="2.8" height="2.2" fill="#8a9ddc"/><rect x="337.8" y="101.41" width="2.8" height="2.2" fill="#8a9ddc"/><rect x="343.3" y="101.17" width="2.8" height="2.2" fill="#8a9ddc"/><rect x="348.9" y="100.9" width="2.8" height="2.2" fill="#8a9ddc"/><rect x="354.4" y="100.51" width="2.8" height="2.2" fill="#8a9ddc"/><rect x="359.9" y="99.9" width="2.8" height="2.2" fill="#8a9ddc"/><rect x="365.8" y="99.3" width="2.8" height="2.2" fill="#8a9ddc"/><rect x="371.8" y="98.6" width="2.8" height="2.2" fill="#8a9ddc"/><rect x="377.7" y="97.94" width="2.8" height="2.2" fill="#8a9ddc"/><rect x="383.6" y="97.06" width="2.8" height="2.2" fill="#8a9ddc"/><rect x="389.3" y="96.27" width="2.8" height="2.2" fill="#8a9ddc"/><rect x="395.4" y="95.3" width="2.8" height="2.2" fill="#8a9ddc"/><rect x="401.4" y="94" width="2.8" height="2.2" fill="#8a9ddc"/><rect x="407.4" y="88.58" width="2.8" height="2.2" fill="#8a9ddc"/><rect x="413.6" y="82.88" width="2.8" height="2.2" fill="#8a9ddc"/><rect x="419.9" y="77.92" width="2.8" height="2.2" fill="#8a9ddc"/><rect x="424.4" y="65.4" width="2.8" height="2.2" fill="#8a9ddc"/><rect x="430.5" y="55.07" width="2.8" height="2.2" fill="#8a9ddc"/><rect x="437.1" y="48.87" width="2.8" height="2.2" fill="#8a9ddc"/><rect x="443.1" y="40.77" width="2.8" height="2.2" fill="#8a9ddc"/><rect x="449.5" y="36.47" width="2.8" height="2.2" fill="#8a9ddc"/><rect x="456.2" y="34.6" width="2.8" height="2.2" fill="#8a9ddc"/><rect x="462.8" y="33.26" width="2.8" height="2.2" fill="#8a9ddc"/><rect x="469.6" y="31.45" width="2.8" height="2.2" fill="#8a9ddc"/><rect x="476.1" y="29.67" width="2.8" height="2.2" fill="#8a9ddc"/><rect x="482.9" y="27.98" width="2.8" height="2.2" fill="#8a9ddc"/><rect x="489.4" y="26.37" width="2.8" height="2.2" fill="#8a9ddc"/><rect x="496.4" y="24.75" width="2.8" height="2.2" fill="#8a9ddc"/><rect x="503.3" y="23.6" width="2.8" height="2.2" fill="#8a9ddc"/>
<line x1="308.7" y1="29.8" x2="322.3" y2="29.8" stroke="#1e1e1e" stroke-width="1"/>
<circle cx="315.5" cy="29.8" r="1.15" fill="#666" stroke="#111" stroke-width="0.75"/>
<text style="stroke-width:0.22px" transform="translate(324.8,31.95) scale(0.97,1.0)" font-size="6.3">Stress</text>
<line x1="308.7" y1="36.3" x2="311.5" y2="36.3" stroke="#f98a58" stroke-opacity="0.75" stroke-width="1"/>
<line x1="319.5" y1="36.3" x2="322.3" y2="36.3" stroke="#f98a58" stroke-opacity="0.75" stroke-width="1"/>
<rect x="313.9" y="35.05" width="3.2" height="2.5" fill="#f98a58"/>
<text style="stroke-width:0.22px" transform="translate(324.8,38.45) scale(0.97,1.0)" font-size="6.3">TAE</text>
<line x1="308.7" y1="43.6" x2="311.5" y2="43.6" stroke="#33c6a3" stroke-opacity="0.75" stroke-width="1"/>
<line x1="319.5" y1="43.6" x2="322.3" y2="43.6" stroke="#33c6a3" stroke-opacity="0.75" stroke-width="1"/>
<rect x="313.9" y="42.35" width="3.2" height="2.5" fill="#33c6a3"/>
<text style="stroke-width:0.22px" transform="translate(324.8,45.75) scale(0.97,1.0)" font-size="6.3">ESE</text>
<line x1="308.7" y1="51.4" x2="311.5" y2="51.4" stroke="#8a9ddc" stroke-opacity="0.75" stroke-width="1"/>
<line x1="319.5" y1="51.4" x2="322.3" y2="51.4" stroke="#8a9ddc" stroke-opacity="0.75" stroke-width="1"/>
<rect x="313.9" y="50.15" width="3.2" height="2.5" fill="#8a9ddc"/>
<text style="stroke-width:0.22px" transform="translate(324.8,53.55) scale(0.97,1.0)" font-size="6.3">CDE</text>
<rect x="28.7" y="135.6" width="222.4" height="93.2" fill="none" stroke="#7a7a7a" stroke-width="1.4"/>
<line x1="28.7" y1="228.8" x2="28.7" y2="231" stroke="#7a7a7a" stroke-width="1"/>
<text transform="translate(28.7,238.95) scale(1.0,1.14)" text-anchor="middle" font-size="7.4">0.000</text>
<line x1="92.24" y1="228.8" x2="92.24" y2="231" stroke="#7a7a7a" stroke-width="1"/>
<text transform="translate(92.24,238.95) scale(1.0,1.14)" text-anchor="middle" font-size="7.4">0.004</text>
<line x1="155.79" y1="228.8" x2="155.79" y2="231" stroke="#7a7a7a" stroke-width="1"/>
<text transform="translate(155.79,238.95) scale(1.0,1.14)" text-anchor="middle" font-size="7.4">0.008</text>
<line x1="219.33" y1="228.8" x2="219.33" y2="231" stroke="#7a7a7a" stroke-width="1"/>
<text transform="translate(219.33,238.95) scale(1.0,1.14)" text-anchor="middle" font-size="7.4">0.012</text>
<line x1="60.47" y1="228.8" x2="60.47" y2="230" stroke="#333" stroke-width="0.9"/>
<line x1="124.01" y1="228.8" x2="124.01" y2="230" stroke="#333" stroke-width="0.9"/>
<line x1="187.56" y1="228.8" x2="187.56" y2="230" stroke="#333" stroke-width="0.9"/>
<line x1="26.3" y1="228.8" x2="28.7" y2="228.8" stroke="#7a7a7a" stroke-width="1"/>
<text transform="translate(25.3,231.6) scale(1.0,1.14)" text-anchor="end" font-size="7.35">0</text>
<line x1="26.3" y1="210.16" x2="28.7" y2="210.16" stroke="#7a7a7a" stroke-width="1"/>
<text transform="translate(25.3,212.96) scale(1.0,1.14)" text-anchor="end" font-size="7.35">20</text>
<line x1="26.3" y1="191.52" x2="28.7" y2="191.52" stroke="#7a7a7a" stroke-width="1"/>
<text transform="translate(25.3,194.32) scale(1.0,1.14)" text-anchor="end" font-size="7.35">40</text>
<line x1="26.3" y1="172.88" x2="28.7" y2="172.88" stroke="#7a7a7a" stroke-width="1"/>
<text transform="translate(25.3,175.68) scale(1.0,1.14)" text-anchor="end" font-size="7.35">60</text>
<line x1="26.3" y1="154.24" x2="28.7" y2="154.24" stroke="#7a7a7a" stroke-width="1"/>
<text transform="translate(25.3,157.04) scale(1.0,1.14)" text-anchor="end" font-size="7.35">80</text>
<line x1="26.3" y1="135.6" x2="28.7" y2="135.6" stroke="#7a7a7a" stroke-width="1"/>
<text transform="translate(25.3,138.4) scale(1.0,1.14)" text-anchor="end" font-size="7.35">100</text>
<line x1="27.7" y1="219.48" x2="29" y2="219.48" stroke="#333" stroke-width="0.9"/>
<line x1="27.7" y1="200.84" x2="29" y2="200.84" stroke="#333" stroke-width="0.9"/>
<line x1="27.7" y1="182.2" x2="29" y2="182.2" stroke="#333" stroke-width="0.9"/>
<line x1="27.7" y1="163.56" x2="29" y2="163.56" stroke="#333" stroke-width="0.9"/>
<line x1="27.7" y1="144.92" x2="29" y2="144.92" stroke="#333" stroke-width="0.9"/>
<line x1="248.5" y1="228.8" x2="251.1" y2="228.8" stroke="#7a7a7a" stroke-width="1"/>
<text transform="translate(253.5,231.4) scale(1.0,1.03)" font-size="7.3">0.0</text>
<line x1="248.5" y1="205.5" x2="251.1" y2="205.5" stroke="#7a7a7a" stroke-width="1"/>
<text transform="translate(253.5,208.1) scale(1.0,1.03)" font-size="7.3">0.2</text>
<line x1="248.5" y1="182.2" x2="251.1" y2="182.2" stroke="#7a7a7a" stroke-width="1"/>
<text transform="translate(253.5,184.8) scale(1.0,1.03)" font-size="7.3">0.4</text>
<line x1="248.5" y1="158.9" x2="251.1" y2="158.9" stroke="#7a7a7a" stroke-width="1"/>
<text transform="translate(253.5,161.5) scale(1.0,1.03)" font-size="7.3">0.6</text>
<line x1="248.5" y1="135.6" x2="251.1" y2="135.6" stroke="#7a7a7a" stroke-width="1"/>
<text transform="translate(253.5,138.2) scale(1.0,1.03)" font-size="7.3">0.8</text>
<line x1="249.9" y1="217.15" x2="251.1" y2="217.15" stroke="#333" stroke-width="0.9"/>
<line x1="249.9" y1="193.85" x2="251.1" y2="193.85" stroke="#333" stroke-width="0.9"/>
<line x1="249.9" y1="170.55" x2="251.1" y2="170.55" stroke="#333" stroke-width="0.9"/>
<line x1="249.9" y1="147.25" x2="251.1" y2="147.25" stroke="#333" stroke-width="0.9"/>
<text transform="translate(139.9,249.15) scale(1.0,1.06)" text-anchor="middle" font-size="7.25">Axial strain</text>
<text transform="translate(13,182.2) rotate(-90) scale(1.0,1.12)" text-anchor="middle" font-size="7.2">Stress (MPa)</text>
<text transform="translate(270.7,182.7) rotate(-90) scale(1.0,1.1)" text-anchor="middle" font-size="7.25">Energy parameters (MPa)</text>
<text style="stroke-width:0.32px;letter-spacing:0.3px" transform="translate(31.6,146.5) scale(1.0,0.92)" font-size="9.3">(b)</text>
<path d="M28.7,228.8 L34.3,224.5 L40.5,219.2 L46.4,214.9 L52.3,210 L58.5,205.3 L64.2,200.4 L70.4,196.1 L76.7,191.2 L82.6,186.6 L88.3,182 L94.2,177.4 L100.5,173.2 L106.7,168.6 L112.9,164.2 L119,159.7 L125.5,155.4 L131.7,151.1 L137.6,146.6 L144.2,142 L150.4,154.5 L156.4,159 L163,159.7 L167.4,177.8 L173.9,187.2 L180.5,190.5 L186.7,198.1 L193.2,206.3 L199.8,206.6 L206.3,207.1 L212.9,207.4 L219.5,207.9 L226.6,208.1" fill="none" stroke="#1e1e1e" stroke-width="1" stroke-linejoin="round"/>
<circle cx="34.3" cy="224.5" r="1.15" fill="#666" stroke="#111" stroke-width="0.75"/>
<circle cx="40.5" cy="219.2" r="1.15" fill="#666" stroke="#111" stroke-width="0.75"/>
<circle cx="46.4" cy="214.9" r="1.15" fill="#666" stroke="#111" stroke-width="0.75"/>
<circle cx="52.3" cy="210" r="1.15" fill="#666" stroke="#111" stroke-width="0.75"/>
<circle cx="58.5" cy="205.3" r="1.15" fill="#666" stroke="#111" stroke-width="0.75"/>
<circle cx="64.2" cy="200.4" r="1.15" fill="#666" stroke="#111" stroke-width="0.75"/>
<circle cx="70.4" cy="196.1" r="1.15" fill="#666" stroke="#111" stroke-width="0.75"/>
<circle cx="76.7" cy="191.2" r="1.15" fill="#666" stroke="#111" stroke-width="0.75"/>
<circle cx="82.6" cy="186.6" r="1.15" fill="#666" stroke="#111" stroke-width="0.75"/>
<circle cx="88.3" cy="182" r="1.15" fill="#666" stroke="#111" stroke-width="0.75"/>
<circle cx="94.2" cy="177.4" r="1.15" fill="#666" stroke="#111" stroke-width="0.75"/>
<circle cx="100.5" cy="173.2" r="1.15" fill="#666" stroke="#111" stroke-width="0.75"/>
<circle cx="106.7" cy="168.6" r="1.15" fill="#666" stroke="#111" stroke-width="0.75"/>
<circle cx="112.9" cy="164.2" r="1.15" fill="#666" stroke="#111" stroke-width="0.75"/>
<circle cx="119" cy="159.7" r="1.15" fill="#666" stroke="#111" stroke-width="0.75"/>
<circle cx="125.5" cy="155.4" r="1.15" fill="#666" stroke="#111" stroke-width="0.75"/>
<circle cx="131.7" cy="151.1" r="1.15" fill="#666" stroke="#111" stroke-width="0.75"/>
<circle cx="137.6" cy="146.6" r="1.15" fill="#666" stroke="#111" stroke-width="0.75"/>
<circle cx="144.2" cy="142" r="1.15" fill="#666" stroke="#111" stroke-width="0.75"/>
<circle cx="150.4" cy="154.5" r="1.15" fill="#666" stroke="#111" stroke-width="0.75"/>
<circle cx="156.4" cy="159" r="1.15" fill="#666" stroke="#111" stroke-width="0.75"/>
<circle cx="163" cy="159.7" r="1.15" fill="#666" stroke="#111" stroke-width="0.75"/>
<circle cx="167.4" cy="177.8" r="1.15" fill="#666" stroke="#111" stroke-width="0.75"/>
<circle cx="173.9" cy="187.2" r="1.15" fill="#666" stroke="#111" stroke-width="0.75"/>
<circle cx="180.5" cy="190.5" r="1.15" fill="#666" stroke="#111" stroke-width="0.75"/>
<circle cx="186.7" cy="198.1" r="1.15" fill="#666" stroke="#111" stroke-width="0.75"/>
<circle cx="193.2" cy="206.3" r="1.15" fill="#666" stroke="#111" stroke-width="0.75"/>
<circle cx="199.8" cy="206.6" r="1.15" fill="#666" stroke="#111" stroke-width="0.75"/>
<circle cx="206.3" cy="207.1" r="1.15" fill="#666" stroke="#111" stroke-width="0.75"/>
<circle cx="212.9" cy="207.4" r="1.15" fill="#666" stroke="#111" stroke-width="0.75"/>
<circle cx="219.5" cy="207.9" r="1.15" fill="#666" stroke="#111" stroke-width="0.75"/>
<circle cx="226.6" cy="208.1" r="1.15" fill="#666" stroke="#111" stroke-width="0.75"/>
<path d="M28.7,228.8 L34.3,228.6 L40.5,228.1 L46.4,227.3 L52.3,226.3 L58.5,225.2 L64.2,223.9 L70.4,222.5 L76.7,220.8 L82.6,218.8 L88.3,216.67 L94.2,213.4 L100.5,210.35 L106.7,207.45 L112.9,204.54 L119,201.11 L125.5,196.94 L131.7,193.43 L137.6,189.47 L144.2,184.8 L150.4,180.73 L156.4,176.8 L163,173.2 L167.4,168.6 L173.9,165.35 L180.5,162.44 L186.7,160 L193.2,158.03 L199.8,156.33 L206.3,154.82 L212.9,153.51 L219.5,152 L226.6,150.6" fill="none" stroke="#f98a58" stroke-width="0.9" stroke-opacity="0.75" stroke-dasharray="1.6,1.4" /><rect x="27.3" y="227.7" width="2.8" height="2.2" fill="#f98a58"/><rect x="32.9" y="227.5" width="2.8" height="2.2" fill="#f98a58"/><rect x="39.1" y="227" width="2.8" height="2.2" fill="#f98a58"/><rect x="45" y="226.2" width="2.8" height="2.2" fill="#f98a58"/><rect x="50.9" y="225.2" width="2.8" height="2.2" fill="#f98a58"/><rect x="57.1" y="224.1" width="2.8" height="2.2" fill="#f98a58"/><rect x="62.8" y="222.8" width="2.8" height="2.2" fill="#f98a58"/><rect x="69" y="221.4" width="2.8" height="2.2" fill="#f98a58"/><rect x="75.3" y="219.7" width="2.8" height="2.2" fill="#f98a58"/><rect x="81.2" y="217.7" width="2.8" height="2.2" fill="#f98a58"/><rect x="86.9" y="215.57" width="2.8" height="2.2" fill="#f98a58"/><rect x="92.8" y="212.3" width="2.8" height="2.2" fill="#f98a58"/><rect x="99.1" y="209.25" width="2.8" height="2.2" fill="#f98a58"/><rect x="105.3" y="206.35" width="2.8" height="2.2" fill="#f98a58"/><rect x="111.5" y="203.44" width="2.8" height="2.2" fill="#f98a58"/><rect x="117.6" y="200.01" width="2.8" height="2.2" fill="#f98a58"/><rect x="124.1" y="195.84" width="2.8" height="2.2" fill="#f98a58"/><rect x="130.3" y="192.33" width="2.8" height="2.2" fill="#f98a58"/><rect x="136.2" y="188.37" width="2.8" height="2.2" fill="#f98a58"/><rect x="142.8" y="183.7" width="2.8" height="2.2" fill="#f98a58"/><rect x="149" y="179.63" width="2.8" height="2.2" fill="#f98a58"/><rect x="155" y="175.7" width="2.8" height="2.2" fill="#f98a58"/><rect x="161.6" y="172.1" width="2.8" height="2.2" fill="#f98a58"/><rect x="166" y="167.5" width="2.8" height="2.2" fill="#f98a58"/><rect x="172.5" y="164.25" width="2.8" height="2.2" fill="#f98a58"/><rect x="179.1" y="161.34" width="2.8" height="2.2" fill="#f98a58"/><rect x="185.3" y="158.9" width="2.8" height="2.2" fill="#f98a58"/><rect x="191.8" y="156.93" width="2.8" height="2.2" fill="#f98a58"/><rect x="198.4" y="155.23" width="2.8" height="2.2" fill="#f98a58"/><rect x="204.9" y="153.72" width="2.8" height="2.2" fill="#f98a58"/><rect x="211.5" y="152.41" width="2.8" height="2.2" fill="#f98a58"/><rect x="218.1" y="150.9" width="2.8" height="2.2" fill="#f98a58"/><rect x="225.2" y="149.5" width="2.8" height="2.2" fill="#f98a58"/>
<path d="M28.7,228.8 L34.3,228.7 L40.5,228.4 L46.4,227.9 L52.3,227.1 L58.5,226.2 L64.2,225 L70.4,223.8 L76.7,222.3 L82.6,220.5 L88.3,218.66 L94.2,216.1 L100.5,212.85 L106.7,209.66 L112.9,207.05 L119,204 L125.5,200.95 L131.7,197.74 L137.6,194.05 L144.2,190.72 L150.4,200.45 L156.4,203.7 L163,204.7 L167.4,215.3 L173.9,219.44 L180.5,221.4 L186.7,224 L193.2,225.87 L199.8,225.98 L206.3,226.06 L212.9,226.14 L219.5,226.21 L226.6,226.3" fill="none" stroke="#33c6a3" stroke-width="0.9" stroke-opacity="0.75" stroke-dasharray="1.6,1.4" /><rect x="27.3" y="227.7" width="2.8" height="2.2" fill="#33c6a3"/><rect x="32.9" y="227.6" width="2.8" height="2.2" fill="#33c6a3"/><rect x="39.1" y="227.3" width="2.8" height="2.2" fill="#33c6a3"/><rect x="45" y="226.8" width="2.8" height="2.2" fill="#33c6a3"/><rect x="50.9" y="226" width="2.8" height="2.2" fill="#33c6a3"/><rect x="57.1" y="225.1" width="2.8" height="2.2" fill="#33c6a3"/><rect x="62.8" y="223.9" width="2.8" height="2.2" fill="#33c6a3"/><rect x="69" y="222.7" width="2.8" height="2.2" fill="#33c6a3"/><rect x="75.3" y="221.2" width="2.8" height="2.2" fill="#33c6a3"/><rect x="81.2" y="219.4" width="2.8" height="2.2" fill="#33c6a3"/><rect x="86.9" y="217.56" width="2.8" height="2.2" fill="#33c6a3"/><rect x="92.8" y="215" width="2.8" height="2.2" fill="#33c6a3"/><rect x="99.1" y="211.75" width="2.8" height="2.2" fill="#33c6a3"/><rect x="105.3" y="208.56" width="2.8" height="2.2" fill="#33c6a3"/><rect x="111.5" y="205.95" width="2.8" height="2.2" fill="#33c6a3"/><rect x="117.6" y="202.9" width="2.8" height="2.2" fill="#33c6a3"/><rect x="124.1" y="199.85" width="2.8" height="2.2" fill="#33c6a3"/><rect x="130.3" y="196.64" width="2.8" height="2.2" fill="#33c6a3"/><rect x="136.2" y="192.95" width="2.8" height="2.2" fill="#33c6a3"/><rect x="142.8" y="189.62" width="2.8" height="2.2" fill="#33c6a3"/><rect x="149" y="199.35" width="2.8" height="2.2" fill="#33c6a3"/><rect x="155" y="202.6" width="2.8" height="2.2" fill="#33c6a3"/><rect x="161.6" y="203.6" width="2.8" height="2.2" fill="#33c6a3"/><rect x="166" y="214.2" width="2.8" height="2.2" fill="#33c6a3"/><rect x="172.5" y="218.34" width="2.8" height="2.2" fill="#33c6a3"/><rect x="179.1" y="220.3" width="2.8" height="2.2" fill="#33c6a3"/><rect x="185.3" y="222.9" width="2.8" height="2.2" fill="#33c6a3"/><rect x="191.8" y="224.77" width="2.8" height="2.2" fill="#33c6a3"/><rect x="198.4" y="224.88" width="2.8" height="2.2" fill="#33c6a3"/><rect x="204.9" y="224.96" width="2.8" height="2.2" fill="#33c6a3"/><rect x="211.5" y="225.04" width="2.8" height="2.2" fill="#33c6a3"/><rect x="218.1" y="225.11" width="2.8" height="2.2" fill="#33c6a3"/><rect x="225.2" y="225.2" width="2.8" height="2.2" fill="#33c6a3"/>
<path d="M28.7,228.8 L34.3,228.2 L40.5,228.07 L46.4,227.94 L52.3,227.81 L58.5,227.68 L64.2,227.56 L70.4,227.42 L76.7,227.29 L82.6,227.16 L88.3,227.04 L94.2,226.72 L100.5,226.29 L106.7,225.9 L112.9,225.6 L119,225.31 L125.5,224.89 L131.7,224.39 L137.6,223.84 L144.2,222.17 L150.4,209.08 L156.4,201.7 L163,196.8 L167.4,181.7 L173.9,174.31 L180.5,169.95 L186.7,164.6 L193.2,160.76 L199.8,159.03 L206.3,157.33 L212.9,156.07 L219.5,153.9 L226.6,152.6" fill="none" stroke="#8a9ddc" stroke-width="0.9" stroke-opacity="0.75" stroke-dasharray="1.6,1.4" /><rect x="27.3" y="227.7" width="2.8" height="2.2" fill="#8a9ddc"/><rect x="32.9" y="227.1" width="2.8" height="2.2" fill="#8a9ddc"/><rect x="39.1" y="226.97" width="2.8" height="2.2" fill="#8a9ddc"/><rect x="45" y="226.84" width="2.8" height="2.2" fill="#8a9ddc"/><rect x="50.9" y="226.71" width="2.8" height="2.2" fill="#8a9ddc"/><rect x="57.1" y="226.58" width="2.8" height="2.2" fill="#8a9ddc"/><rect x="62.8" y="226.46" width="2.8" height="2.2" fill="#8a9ddc"/><rect x="69" y="226.32" width="2.8" height="2.2" fill="#8a9ddc"/><rect x="75.3" y="226.19" width="2.8" height="2.2" fill="#8a9ddc"/><rect x="81.2" y="226.06" width="2.8" height="2.2" fill="#8a9ddc"/><rect x="86.9" y="225.94" width="2.8" height="2.2" fill="#8a9ddc"/><rect x="92.8" y="225.62" width="2.8" height="2.2" fill="#8a9ddc"/><rect x="99.1" y="225.19" width="2.8" height="2.2" fill="#8a9ddc"/><rect x="105.3" y="224.8" width="2.8" height="2.2" fill="#8a9ddc"/><rect x="111.5" y="224.5" width="2.8" height="2.2" fill="#8a9ddc"/><rect x="117.6" y="224.21" width="2.8" height="2.2" fill="#8a9ddc"/><rect x="124.1" y="223.79" width="2.8" height="2.2" fill="#8a9ddc"/><rect x="130.3" y="223.29" width="2.8" height="2.2" fill="#8a9ddc"/><rect x="136.2" y="222.74" width="2.8" height="2.2" fill="#8a9ddc"/><rect x="142.8" y="221.07" width="2.8" height="2.2" fill="#8a9ddc"/><rect x="149" y="207.98" width="2.8" height="2.2" fill="#8a9ddc"/><rect x="155" y="200.6" width="2.8" height="2.2" fill="#8a9ddc"/><rect x="161.6" y="195.7" width="2.8" height="2.2" fill="#8a9ddc"/><rect x="166" y="180.6" width="2.8" height="2.2" fill="#8a9ddc"/><rect x="172.5" y="173.21" width="2.8" height="2.2" fill="#8a9ddc"/><rect x="179.1" y="168.85" width="2.8" height="2.2" fill="#8a9ddc"/><rect x="185.3" y="163.5" width="2.8" height="2.2" fill="#8a9ddc"/><rect x="191.8" y="159.66" width="2.8" height="2.2" fill="#8a9ddc"/><rect x="198.4" y="157.93" width="2.8" height="2.2" fill="#8a9ddc"/><rect x="204.9" y="156.23" width="2.8" height="2.2" fill="#8a9ddc"/><rect x="211.5" y="154.97" width="2.8" height="2.2" fill="#8a9ddc"/><rect x="218.1" y="152.8" width="2.8" height="2.2" fill="#8a9ddc"/><rect x="225.2" y="151.5" width="2.8" height="2.2" fill="#8a9ddc"/>
<line x1="40.9" y1="154.9" x2="54.5" y2="154.9" stroke="#1e1e1e" stroke-width="1"/>
<circle cx="47.7" cy="154.9" r="1.15" fill="#666" stroke="#111" stroke-width="0.75"/>
<text style="stroke-width:0.22px" transform="translate(57,157.05) scale(0.97,1.0)" font-size="6.3">Stress</text>
<line x1="40.9" y1="161.4" x2="43.7" y2="161.4" stroke="#f98a58" stroke-opacity="0.75" stroke-width="1"/>
<line x1="51.7" y1="161.4" x2="54.5" y2="161.4" stroke="#f98a58" stroke-opacity="0.75" stroke-width="1"/>
<rect x="46.1" y="160.15" width="3.2" height="2.5" fill="#f98a58"/>
<text style="stroke-width:0.22px" transform="translate(57,163.55) scale(0.97,1.0)" font-size="6.3">TAE</text>
<line x1="40.9" y1="168.7" x2="43.7" y2="168.7" stroke="#33c6a3" stroke-opacity="0.75" stroke-width="1"/>
<line x1="51.7" y1="168.7" x2="54.5" y2="168.7" stroke="#33c6a3" stroke-opacity="0.75" stroke-width="1"/>
<rect x="46.1" y="167.45" width="3.2" height="2.5" fill="#33c6a3"/>
<text style="stroke-width:0.22px" transform="translate(57,170.85) scale(0.97,1.0)" font-size="6.3">ESE</text>
<line x1="40.9" y1="176.5" x2="43.7" y2="176.5" stroke="#8a9ddc" stroke-opacity="0.75" stroke-width="1"/>
<line x1="51.7" y1="176.5" x2="54.5" y2="176.5" stroke="#8a9ddc" stroke-opacity="0.75" stroke-width="1"/>
<rect x="46.1" y="175.25" width="3.2" height="2.5" fill="#8a9ddc"/>
<text style="stroke-width:0.22px" transform="translate(57,178.65) scale(0.97,1.0)" font-size="6.3">CDE</text>
<rect x="296.5" y="135.6" width="222.1" height="93.2" fill="none" stroke="#7a7a7a" stroke-width="1.4"/>
<line x1="296.5" y1="228.8" x2="296.5" y2="231" stroke="#7a7a7a" stroke-width="1"/>
<text transform="translate(296.5,238.95) scale(1.0,1.14)" text-anchor="middle" font-size="7.4">0.000</text>
<line x1="352.02" y1="228.8" x2="352.02" y2="231" stroke="#7a7a7a" stroke-width="1"/>
<text transform="translate(352.02,238.95) scale(1.0,1.14)" text-anchor="middle" font-size="7.4">0.004</text>
<line x1="407.55" y1="228.8" x2="407.55" y2="231" stroke="#7a7a7a" stroke-width="1"/>
<text transform="translate(407.55,238.95) scale(1.0,1.14)" text-anchor="middle" font-size="7.4">0.008</text>
<line x1="463.08" y1="228.8" x2="463.08" y2="231" stroke="#7a7a7a" stroke-width="1"/>
<text transform="translate(463.08,238.95) scale(1.0,1.14)" text-anchor="middle" font-size="7.4">0.012</text>
<line x1="518.6" y1="228.8" x2="518.6" y2="231" stroke="#7a7a7a" stroke-width="1"/>
<text transform="translate(518.6,238.95) scale(1.0,1.14)" text-anchor="middle" font-size="7.4">0.016</text>
<line x1="324.26" y1="228.8" x2="324.26" y2="230" stroke="#333" stroke-width="0.9"/>
<line x1="379.79" y1="228.8" x2="379.79" y2="230" stroke="#333" stroke-width="0.9"/>
<line x1="435.31" y1="228.8" x2="435.31" y2="230" stroke="#333" stroke-width="0.9"/>
<line x1="490.84" y1="228.8" x2="490.84" y2="230" stroke="#333" stroke-width="0.9"/>
<line x1="294.1" y1="228.8" x2="296.5" y2="228.8" stroke="#7a7a7a" stroke-width="1"/>
<text transform="translate(293.1,231.6) scale(1.0,1.14)" text-anchor="end" font-size="7.35">0</text>
<line x1="294.1" y1="202.17" x2="296.5" y2="202.17" stroke="#7a7a7a" stroke-width="1"/>
<text transform="translate(293.1,204.97) scale(1.0,1.14)" text-anchor="end" font-size="7.35">20</text>
<line x1="294.1" y1="175.54" x2="296.5" y2="175.54" stroke="#7a7a7a" stroke-width="1"/>
<text transform="translate(293.1,178.34) scale(1.0,1.14)" text-anchor="end" font-size="7.35">40</text>
<line x1="294.1" y1="148.91" x2="296.5" y2="148.91" stroke="#7a7a7a" stroke-width="1"/>
<text transform="translate(293.1,151.71) scale(1.0,1.14)" text-anchor="end" font-size="7.35">60</text>
<line x1="295.5" y1="215.49" x2="296.8" y2="215.49" stroke="#333" stroke-width="0.9"/>
<line x1="295.5" y1="188.86" x2="296.8" y2="188.86" stroke="#333" stroke-width="0.9"/>
<line x1="295.5" y1="162.23" x2="296.8" y2="162.23" stroke="#333" stroke-width="0.9"/>
<line x1="295.5" y1="135.6" x2="296.8" y2="135.6" stroke="#333" stroke-width="0.9"/>
<line x1="516" y1="228.8" x2="518.6" y2="228.8" stroke="#7a7a7a" stroke-width="1"/>
<text transform="translate(521,231.4) scale(1.0,1.03)" font-size="7.3">0.0</text>
<line x1="516" y1="205.5" x2="518.6" y2="205.5" stroke="#7a7a7a" stroke-width="1"/>
<text transform="translate(521,208.1) scale(1.0,1.03)" font-size="7.3">0.2</text>
<line x1="516" y1="182.2" x2="518.6" y2="182.2" stroke="#7a7a7a" stroke-width="1"/>
<text transform="translate(521,184.8) scale(1.0,1.03)" font-size="7.3">0.4</text>
<line x1="516" y1="158.9" x2="518.6" y2="158.9" stroke="#7a7a7a" stroke-width="1"/>
<text transform="translate(521,161.5) scale(1.0,1.03)" font-size="7.3">0.6</text>
<line x1="516" y1="135.6" x2="518.6" y2="135.6" stroke="#7a7a7a" stroke-width="1"/>
<text transform="translate(521,138.2) scale(1.0,1.03)" font-size="7.3">0.8</text>
<line x1="517.4" y1="217.15" x2="518.6" y2="217.15" stroke="#333" stroke-width="0.9"/>
<line x1="517.4" y1="193.85" x2="518.6" y2="193.85" stroke="#333" stroke-width="0.9"/>
<line x1="517.4" y1="170.55" x2="518.6" y2="170.55" stroke="#333" stroke-width="0.9"/>
<line x1="517.4" y1="147.25" x2="518.6" y2="147.25" stroke="#333" stroke-width="0.9"/>
<text transform="translate(407.55,249.15) scale(1.0,1.06)" text-anchor="middle" font-size="7.25">Axial strain</text>
<text transform="translate(280.8,182.2) rotate(-90) scale(1.0,1.12)" text-anchor="middle" font-size="7.2">Stress (MPa)</text>
<text transform="translate(538.2,182.7) rotate(-90) scale(1.0,1.1)" text-anchor="middle" font-size="7.25">Energy parameters (MPa)</text>
<text style="stroke-width:0.32px;letter-spacing:0.3px" transform="translate(299.4,146.5) scale(1.0,0.92)" font-size="9.3">(d)</text>
<path d="M296.5,228.8 L301.3,224.1 L306.8,218.8 L312.1,213.9 L317.3,208.9 L323,203.9 L328.6,199.5 L334.2,194.7 L339.7,189.9 L345.7,184.8 L351.4,180.5 L357.5,176.1 L363.4,171.6 L369.3,167.2 L375.5,162.9 L381.6,159 L387.8,154.7 L393.9,150.5 L400.4,146.2 L406.8,141.8 L413.4,149 L419.7,154.5 L426.5,158.4 L431.3,173.2 L438.8,180.9 L445,195.5 L452,203.7 L459.2,205 L466.4,205.7 L473.4,206.1 L480.9,206.7 L488.2,207.2 L495.8,207.7 L503.3,208.1 L510.6,208.6 L517.9,209" fill="none" stroke="#1e1e1e" stroke-width="1" stroke-linejoin="round"/>
<circle cx="301.3" cy="224.1" r="1.15" fill="#666" stroke="#111" stroke-width="0.75"/>
<circle cx="306.8" cy="218.8" r="1.15" fill="#666" stroke="#111" stroke-width="0.75"/>
<circle cx="312.1" cy="213.9" r="1.15" fill="#666" stroke="#111" stroke-width="0.75"/>
<circle cx="317.3" cy="208.9" r="1.15" fill="#666" stroke="#111" stroke-width="0.75"/>
<circle cx="323" cy="203.9" r="1.15" fill="#666" stroke="#111" stroke-width="0.75"/>
<circle cx="328.6" cy="199.5" r="1.15" fill="#666" stroke="#111" stroke-width="0.75"/>
<circle cx="334.2" cy="194.7" r="1.15" fill="#666" stroke="#111" stroke-width="0.75"/>
<circle cx="339.7" cy="189.9" r="1.15" fill="#666" stroke="#111" stroke-width="0.75"/>
<circle cx="345.7" cy="184.8" r="1.15" fill="#666" stroke="#111" stroke-width="0.75"/>
<circle cx="351.4" cy="180.5" r="1.15" fill="#666" stroke="#111" stroke-width="0.75"/>
<circle cx="357.5" cy="176.1" r="1.15" fill="#666" stroke="#111" stroke-width="0.75"/>
<circle cx="363.4" cy="171.6" r="1.15" fill="#666" stroke="#111" stroke-width="0.75"/>
<circle cx="369.3" cy="167.2" r="1.15" fill="#666" stroke="#111" stroke-width="0.75"/>
<circle cx="375.5" cy="162.9" r="1.15" fill="#666" stroke="#111" stroke-width="0.75"/>
<circle cx="381.6" cy="159" r="1.15" fill="#666" stroke="#111" stroke-width="0.75"/>
<circle cx="387.8" cy="154.7" r="1.15" fill="#666" stroke="#111" stroke-width="0.75"/>
<circle cx="393.9" cy="150.5" r="1.15" fill="#666" stroke="#111" stroke-width="0.75"/>
<circle cx="400.4" cy="146.2" r="1.15" fill="#666" stroke="#111" stroke-width="0.75"/>
<circle cx="406.8" cy="141.8" r="1.15" fill="#666" stroke="#111" stroke-width="0.75"/>
<circle cx="413.4" cy="149" r="1.15" fill="#666" stroke="#111" stroke-width="0.75"/>
<circle cx="419.7" cy="154.5" r="1.15" fill="#666" stroke="#111" stroke-width="0.75"/>
<circle cx="426.5" cy="158.4" r="1.15" fill="#666" stroke="#111" stroke-width="0.75"/>
<circle cx="431.3" cy="173.2" r="1.15" fill="#666" stroke="#111" stroke-width="0.75"/>
<circle cx="438.8" cy="180.9" r="1.15" fill="#666" stroke="#111" stroke-width="0.75"/>
<circle cx="445" cy="195.5" r="1.15" fill="#666" stroke="#111" stroke-width="0.75"/>
<circle cx="452" cy="203.7" r="1.15" fill="#666" stroke="#111" stroke-width="0.75"/>
<circle cx="459.2" cy="205" r="1.15" fill="#666" stroke="#111" stroke-width="0.75"/>
<circle cx="466.4" cy="205.7" r="1.15" fill="#666" stroke="#111" stroke-width="0.75"/>
<circle cx="473.4" cy="206.1" r="1.15" fill="#666" stroke="#111" stroke-width="0.75"/>
<circle cx="480.9" cy="206.7" r="1.15" fill="#666" stroke="#111" stroke-width="0.75"/>
<circle cx="488.2" cy="207.2" r="1.15" fill="#666" stroke="#111" stroke-width="0.75"/>
<circle cx="495.8" cy="207.7" r="1.15" fill="#666" stroke="#111" stroke-width="0.75"/>
<circle cx="503.3" cy="208.1" r="1.15" fill="#666" stroke="#111" stroke-width="0.75"/>
<circle cx="510.6" cy="208.6" r="1.15" fill="#666" stroke="#111" stroke-width="0.75"/>
<circle cx="517.9" cy="209" r="1.15" fill="#666" stroke="#111" stroke-width="0.75"/>
<path d="M296.5,228.8 L301.3,228.6 L306.8,228.3 L312.1,227.8 L317.3,227 L323,226.1 L328.6,224.91 L334.2,223.7 L339.7,221.93 L345.7,219.97 L351.4,218.16 L357.5,215.71 L363.4,213.89 L369.3,211.43 L375.5,208.72 L381.6,205.95 L387.8,202.91 L393.9,200.05 L400.4,196.24 L406.8,192.84 L413.4,188.84 L419.7,185.2 L426.5,181.51 L431.3,177.1 L438.8,173.62 L445,171.72 L452,169.62 L459.2,167.2 L466.4,165.41 L473.4,163.41 L480.9,161.72 L488.2,160.71 L495.8,159.3 L503.3,157.8 L510.6,156.2 L517.9,154.8" fill="none" stroke="#f98a58" stroke-width="0.9" stroke-opacity="0.75" stroke-dasharray="1.6,1.4" /><rect x="295.1" y="227.7" width="2.8" height="2.2" fill="#f98a58"/><rect x="299.9" y="227.5" width="2.8" height="2.2" fill="#f98a58"/><rect x="305.4" y="227.2" width="2.8" height="2.2" fill="#f98a58"/><rect x="310.7" y="226.7" width="2.8" height="2.2" fill="#f98a58"/><rect x="315.9" y="225.9" width="2.8" height="2.2" fill="#f98a58"/><rect x="321.6" y="225" width="2.8" height="2.2" fill="#f98a58"/><rect x="327.2" y="223.81" width="2.8" height="2.2" fill="#f98a58"/><rect x="332.8" y="222.6" width="2.8" height="2.2" fill="#f98a58"/><rect x="338.3" y="220.83" width="2.8" height="2.2" fill="#f98a58"/><rect x="344.3" y="218.87" width="2.8" height="2.2" fill="#f98a58"/><rect x="350" y="217.06" width="2.8" height="2.2" fill="#f98a58"/><rect x="356.1" y="214.61" width="2.8" height="2.2" fill="#f98a58"/><rect x="362" y="212.79" width="2.8" height="2.2" fill="#f98a58"/><rect x="367.9" y="210.33" width="2.8" height="2.2" fill="#f98a58"/><rect x="374.1" y="207.62" width="2.8" height="2.2" fill="#f98a58"/><rect x="380.2" y="204.85" width="2.8" height="2.2" fill="#f98a58"/><rect x="386.4" y="201.81" width="2.8" height="2.2" fill="#f98a58"/><rect x="392.5" y="198.95" width="2.8" height="2.2" fill="#f98a58"/><rect x="399" y="195.14" width="2.8" height="2.2" fill="#f98a58"/><rect x="405.4" y="191.74" width="2.8" height="2.2" fill="#f98a58"/><rect x="412" y="187.74" width="2.8" height="2.2" fill="#f98a58"/><rect x="418.3" y="184.1" width="2.8" height="2.2" fill="#f98a58"/><rect x="425.1" y="180.41" width="2.8" height="2.2" fill="#f98a58"/><rect x="429.9" y="176" width="2.8" height="2.2" fill="#f98a58"/><rect x="437.4" y="172.52" width="2.8" height="2.2" fill="#f98a58"/><rect x="443.6" y="170.62" width="2.8" height="2.2" fill="#f98a58"/><rect x="450.6" y="168.52" width="2.8" height="2.2" fill="#f98a58"/><rect x="457.8" y="166.1" width="2.8" height="2.2" fill="#f98a58"/><rect x="465" y="164.31" width="2.8" height="2.2" fill="#f98a58"/><rect x="472" y="162.31" width="2.8" height="2.2" fill="#f98a58"/><rect x="479.5" y="160.62" width="2.8" height="2.2" fill="#f98a58"/><rect x="486.8" y="159.61" width="2.8" height="2.2" fill="#f98a58"/><rect x="494.4" y="158.2" width="2.8" height="2.2" fill="#f98a58"/><rect x="501.9" y="156.7" width="2.8" height="2.2" fill="#f98a58"/><rect x="509.2" y="155.1" width="2.8" height="2.2" fill="#f98a58"/><rect x="516.5" y="153.7" width="2.8" height="2.2" fill="#f98a58"/>
<path d="M296.5,228.8 L301.3,228.7 L306.8,228.5 L312.1,228.1 L317.3,227.5 L323,226.8 L328.6,225.83 L334.2,224.8 L339.7,223.49 L345.7,221.66 L351.4,219.67 L357.5,217.86 L363.4,216.82 L369.3,214.77 L375.5,212.77 L381.6,210.78 L387.8,208.23 L393.9,206.13 L400.4,203.8 L406.8,201.75 L413.4,205.35 L419.7,208.21 L426.5,210.65 L431.3,217.61 L438.8,220.51 L445,224.7 L452,226.1 L459.2,226.4 L466.4,226.47 L473.4,226.55 L480.9,226.62 L488.2,226.7 L495.8,226.77 L503.3,226.85 L510.6,226.93 L517.9,227" fill="none" stroke="#33c6a3" stroke-width="0.9" stroke-opacity="0.75" stroke-dasharray="1.6,1.4" /><rect x="295.1" y="227.7" width="2.8" height="2.2" fill="#33c6a3"/><rect x="299.9" y="227.6" width="2.8" height="2.2" fill="#33c6a3"/><rect x="305.4" y="227.4" width="2.8" height="2.2" fill="#33c6a3"/><rect x="310.7" y="227" width="2.8" height="2.2" fill="#33c6a3"/><rect x="315.9" y="226.4" width="2.8" height="2.2" fill="#33c6a3"/><rect x="321.6" y="225.7" width="2.8" height="2.2" fill="#33c6a3"/><rect x="327.2" y="224.73" width="2.8" height="2.2" fill="#33c6a3"/><rect x="332.8" y="223.7" width="2.8" height="2.2" fill="#33c6a3"/><rect x="338.3" y="222.39" width="2.8" height="2.2" fill="#33c6a3"/><rect x="344.3" y="220.56" width="2.8" height="2.2" fill="#33c6a3"/><rect x="350" y="218.57" width="2.8" height="2.2" fill="#33c6a3"/><rect x="356.1" y="216.76" width="2.8" height="2.2" fill="#33c6a3"/><rect x="362" y="215.72" width="2.8" height="2.2" fill="#33c6a3"/><rect x="367.9" y="213.67" width="2.8" height="2.2" fill="#33c6a3"/><rect x="374.1" y="211.67" width="2.8" height="2.2" fill="#33c6a3"/><rect x="380.2" y="209.68" width="2.8" height="2.2" fill="#33c6a3"/><rect x="386.4" y="207.13" width="2.8" height="2.2" fill="#33c6a3"/><rect x="392.5" y="205.03" width="2.8" height="2.2" fill="#33c6a3"/><rect x="399" y="202.7" width="2.8" height="2.2" fill="#33c6a3"/><rect x="405.4" y="200.65" width="2.8" height="2.2" fill="#33c6a3"/><rect x="412" y="204.25" width="2.8" height="2.2" fill="#33c6a3"/><rect x="418.3" y="207.11" width="2.8" height="2.2" fill="#33c6a3"/><rect x="425.1" y="209.55" width="2.8" height="2.2" fill="#33c6a3"/><rect x="429.9" y="216.51" width="2.8" height="2.2" fill="#33c6a3"/><rect x="437.4" y="219.41" width="2.8" height="2.2" fill="#33c6a3"/><rect x="443.6" y="223.6" width="2.8" height="2.2" fill="#33c6a3"/><rect x="450.6" y="225" width="2.8" height="2.2" fill="#33c6a3"/><rect x="457.8" y="225.3" width="2.8" height="2.2" fill="#33c6a3"/><rect x="465" y="225.37" width="2.8" height="2.2" fill="#33c6a3"/><rect x="472" y="225.45" width="2.8" height="2.2" fill="#33c6a3"/><rect x="479.5" y="225.52" width="2.8" height="2.2" fill="#33c6a3"/><rect x="486.8" y="225.6" width="2.8" height="2.2" fill="#33c6a3"/><rect x="494.4" y="225.67" width="2.8" height="2.2" fill="#33c6a3"/><rect x="501.9" y="225.75" width="2.8" height="2.2" fill="#33c6a3"/><rect x="509.2" y="225.83" width="2.8" height="2.2" fill="#33c6a3"/><rect x="516.5" y="225.9" width="2.8" height="2.2" fill="#33c6a3"/>
<path d="M296.5,228.8 L301.3,228.3 L306.8,228.18 L312.1,228.06 L317.3,227.94 L323,227.81 L328.6,227.68 L334.2,227.56 L339.7,227.43 L345.7,227.3 L351.4,227.08 L357.5,226.57 L363.4,226.01 L369.3,225.35 L375.5,224.66 L381.6,224.04 L387.8,222.78 L393.9,222.11 L400.4,221.01 L406.8,219.09 L413.4,212.1 L419.7,205.51 L426.5,199.47 L431.3,188.6 L438.8,180.75 L445,176.1 L452,171.09 L459.2,169 L466.4,167.15 L473.4,166 L480.9,164.12 L488.2,162.72 L495.8,160.9 L503.3,159.3 L510.6,157.4 L517.9,156.2" fill="none" stroke="#8a9ddc" stroke-width="0.9" stroke-opacity="0.75" stroke-dasharray="1.6,1.4" /><rect x="295.1" y="227.7" width="2.8" height="2.2" fill="#8a9ddc"/><rect x="299.9" y="227.2" width="2.8" height="2.2" fill="#8a9ddc"/><rect x="305.4" y="227.08" width="2.8" height="2.2" fill="#8a9ddc"/><rect x="310.7" y="226.96" width="2.8" height="2.2" fill="#8a9ddc"/><rect x="315.9" y="226.84" width="2.8" height="2.2" fill="#8a9ddc"/><rect x="321.6" y="226.71" width="2.8" height="2.2" fill="#8a9ddc"/><rect x="327.2" y="226.58" width="2.8" height="2.2" fill="#8a9ddc"/><rect x="332.8" y="226.46" width="2.8" height="2.2" fill="#8a9ddc"/><rect x="338.3" y="226.33" width="2.8" height="2.2" fill="#8a9ddc"/><rect x="344.3" y="226.2" width="2.8" height="2.2" fill="#8a9ddc"/><rect x="350" y="225.98" width="2.8" height="2.2" fill="#8a9ddc"/><rect x="356.1" y="225.47" width="2.8" height="2.2" fill="#8a9ddc"/><rect x="362" y="224.91" width="2.8" height="2.2" fill="#8a9ddc"/><rect x="367.9" y="224.25" width="2.8" height="2.2" fill="#8a9ddc"/><rect x="374.1" y="223.56" width="2.8" height="2.2" fill="#8a9ddc"/><rect x="380.2" y="222.94" width="2.8" height="2.2" fill="#8a9ddc"/><rect x="386.4" y="221.68" width="2.8" height="2.2" fill="#8a9ddc"/><rect x="392.5" y="221.01" width="2.8" height="2.2" fill="#8a9ddc"/><rect x="399" y="219.91" width="2.8" height="2.2" fill="#8a9ddc"/><rect x="405.4" y="217.99" width="2.8" height="2.2" fill="#8a9ddc"/><rect x="412" y="211" width="2.8" height="2.2" fill="#8a9ddc"/><rect x="418.3" y="204.41" width="2.8" height="2.2" fill="#8a9ddc"/><rect x="425.1" y="198.37" width="2.8" height="2.2" fill="#8a9ddc"/><rect x="429.9" y="187.5" width="2.8" height="2.2" fill="#8a9ddc"/><rect x="437.4" y="179.65" width="2.8" height="2.2" fill="#8a9ddc"/><rect x="443.6" y="175" width="2.8" height="2.2" fill="#8a9ddc"/><rect x="450.6" y="169.99" width="2.8" height="2.2" fill="#8a9ddc"/><rect x="457.8" y="167.9" width="2.8" height="2.2" fill="#8a9ddc"/><rect x="465" y="166.05" width="2.8" height="2.2" fill="#8a9ddc"/><rect x="472" y="164.9" width="2.8" height="2.2" fill="#8a9ddc"/><rect x="479.5" y="163.03" width="2.8" height="2.2" fill="#8a9ddc"/><rect x="486.8" y="161.62" width="2.8" height="2.2" fill="#8a9ddc"/><rect x="494.4" y="159.8" width="2.8" height="2.2" fill="#8a9ddc"/><rect x="501.9" y="158.2" width="2.8" height="2.2" fill="#8a9ddc"/><rect x="509.2" y="156.3" width="2.8" height="2.2" fill="#8a9ddc"/><rect x="516.5" y="155.1" width="2.8" height="2.2" fill="#8a9ddc"/>
<line x1="308.7" y1="154.9" x2="322.3" y2="154.9" stroke="#1e1e1e" stroke-width="1"/>
<circle cx="315.5" cy="154.9" r="1.15" fill="#666" stroke="#111" stroke-width="0.75"/>
<text style="stroke-width:0.22px" transform="translate(324.8,157.05) scale(0.97,1.0)" font-size="6.3">Stress</text>
<line x1="308.7" y1="161.4" x2="311.5" y2="161.4" stroke="#f98a58" stroke-opacity="0.75" stroke-width="1"/>
<line x1="319.5" y1="161.4" x2="322.3" y2="161.4" stroke="#f98a58" stroke-opacity="0.75" stroke-width="1"/>
<rect x="313.9" y="160.15" width="3.2" height="2.5" fill="#f98a58"/>
<text style="stroke-width:0.22px" transform="translate(324.8,163.55) scale(0.97,1.0)" font-size="6.3">TAE</text>
<line x1="308.7" y1="168.7" x2="311.5" y2="168.7" stroke="#33c6a3" stroke-opacity="0.75" stroke-width="1"/>
<line x1="319.5" y1="168.7" x2="322.3" y2="168.7" stroke="#33c6a3" stroke-opacity="0.75" stroke-width="1"/>
<rect x="313.9" y="167.45" width="3.2" height="2.5" fill="#33c6a3"/>
<text style="stroke-width:0.22px" transform="translate(324.8,170.85) scale(0.97,1.0)" font-size="6.3">ESE</text>
<line x1="308.7" y1="176.5" x2="311.5" y2="176.5" stroke="#8a9ddc" stroke-opacity="0.75" stroke-width="1"/>
<line x1="319.5" y1="176.5" x2="322.3" y2="176.5" stroke="#8a9ddc" stroke-opacity="0.75" stroke-width="1"/>
<rect x="313.9" y="175.25" width="3.2" height="2.5" fill="#8a9ddc"/>
<text style="stroke-width:0.22px" transform="translate(324.8,178.65) scale(0.97,1.0)" font-size="6.3">CDE</text>
<rect x="28.7" y="260.9" width="222.4" height="93.1" fill="none" stroke="#7a7a7a" stroke-width="1.4"/>
<line x1="28.7" y1="354" x2="28.7" y2="356.2" stroke="#7a7a7a" stroke-width="1"/>
<text transform="translate(28.7,364.15) scale(1.0,1.14)" text-anchor="middle" font-size="7.4">0.000</text>
<line x1="78.12" y1="354" x2="78.12" y2="356.2" stroke="#7a7a7a" stroke-width="1"/>
<text transform="translate(78.12,364.15) scale(1.0,1.14)" text-anchor="middle" font-size="7.4">0.004</text>
<line x1="127.54" y1="354" x2="127.54" y2="356.2" stroke="#7a7a7a" stroke-width="1"/>
<text transform="translate(127.54,364.15) scale(1.0,1.14)" text-anchor="middle" font-size="7.4">0.008</text>
<line x1="176.97" y1="354" x2="176.97" y2="356.2" stroke="#7a7a7a" stroke-width="1"/>
<text transform="translate(176.97,364.15) scale(1.0,1.14)" text-anchor="middle" font-size="7.4">0.012</text>
<line x1="226.39" y1="354" x2="226.39" y2="356.2" stroke="#7a7a7a" stroke-width="1"/>
<text transform="translate(226.39,364.15) scale(1.0,1.14)" text-anchor="middle" font-size="7.4">0.016</text>
<line x1="53.41" y1="354" x2="53.41" y2="355.2" stroke="#333" stroke-width="0.9"/>
<line x1="102.83" y1="354" x2="102.83" y2="355.2" stroke="#333" stroke-width="0.9"/>
<line x1="152.26" y1="354" x2="152.26" y2="355.2" stroke="#333" stroke-width="0.9"/>
<line x1="201.68" y1="354" x2="201.68" y2="355.2" stroke="#333" stroke-width="0.9"/>
<line x1="26.3" y1="354" x2="28.7" y2="354" stroke="#7a7a7a" stroke-width="1"/>
<text transform="translate(25.3,356.8) scale(1.0,1.14)" text-anchor="end" font-size="7.35">0</text>
<line x1="26.3" y1="327.4" x2="28.7" y2="327.4" stroke="#7a7a7a" stroke-width="1"/>
<text transform="translate(25.3,330.2) scale(1.0,1.14)" text-anchor="end" font-size="7.35">20</text>
<line x1="26.3" y1="300.8" x2="28.7" y2="300.8" stroke="#7a7a7a" stroke-width="1"/>
<text transform="translate(25.3,303.6) scale(1.0,1.14)" text-anchor="end" font-size="7.35">40</text>
<line x1="26.3" y1="274.2" x2="28.7" y2="274.2" stroke="#7a7a7a" stroke-width="1"/>
<text transform="translate(25.3,277) scale(1.0,1.14)" text-anchor="end" font-size="7.35">60</text>
<line x1="27.7" y1="340.7" x2="29" y2="340.7" stroke="#333" stroke-width="0.9"/>
<line x1="27.7" y1="314.1" x2="29" y2="314.1" stroke="#333" stroke-width="0.9"/>
<line x1="27.7" y1="287.5" x2="29" y2="287.5" stroke="#333" stroke-width="0.9"/>
<line x1="27.7" y1="260.9" x2="29" y2="260.9" stroke="#333" stroke-width="0.9"/>
<line x1="248.5" y1="354" x2="251.1" y2="354" stroke="#7a7a7a" stroke-width="1"/>
<text transform="translate(253.5,356.6) scale(1.0,1.03)" font-size="7.3">0.0</text>
<line x1="248.5" y1="330.73" x2="251.1" y2="330.73" stroke="#7a7a7a" stroke-width="1"/>
<text transform="translate(253.5,333.33) scale(1.0,1.03)" font-size="7.3">0.2</text>
<line x1="248.5" y1="307.45" x2="251.1" y2="307.45" stroke="#7a7a7a" stroke-width="1"/>
<text transform="translate(253.5,310.05) scale(1.0,1.03)" font-size="7.3">0.4</text>
<line x1="248.5" y1="284.18" x2="251.1" y2="284.18" stroke="#7a7a7a" stroke-width="1"/>
<text transform="translate(253.5,286.78) scale(1.0,1.03)" font-size="7.3">0.6</text>
<line x1="248.5" y1="260.9" x2="251.1" y2="260.9" stroke="#7a7a7a" stroke-width="1"/>
<text transform="translate(253.5,263.5) scale(1.0,1.03)" font-size="7.3">0.8</text>
<line x1="249.9" y1="342.36" x2="251.1" y2="342.36" stroke="#333" stroke-width="0.9"/>
<line x1="249.9" y1="319.09" x2="251.1" y2="319.09" stroke="#333" stroke-width="0.9"/>
<line x1="249.9" y1="295.81" x2="251.1" y2="295.81" stroke="#333" stroke-width="0.9"/>
<line x1="249.9" y1="272.54" x2="251.1" y2="272.54" stroke="#333" stroke-width="0.9"/>
<text transform="translate(139.9,374.35) scale(1.0,1.06)" text-anchor="middle" font-size="7.25">Axial strain</text>
<text transform="translate(13,307.45) rotate(-90) scale(1.0,1.12)" text-anchor="middle" font-size="7.2">Stress (MPa)</text>
<text transform="translate(270.7,307.95) rotate(-90) scale(1.0,1.1)" text-anchor="middle" font-size="7.25">Energy parameters (MPa)</text>
<text style="stroke-width:0.32px;letter-spacing:0.3px" transform="translate(31.6,271.8) scale(1.0,0.92)" font-size="9.3">(e)</text>
<path d="M28.7,354 L33.3,349.5 L37.9,344.2 L42.7,339.5 L47.7,334.6 L52.7,330 L57.6,325.4 L62.5,320.8 L67.7,316.2 L73,311.6 L78.2,307.3 L83.4,302.8 L88.8,298.7 L94.7,294.5 L100.7,290 L106.3,286 L112.1,281.7 L117.8,277.8 L123.7,273.8 L130,269.5 L136,288.8 L142.1,292.9 L148.3,296.3 L153,298.3 L159.2,324.8 L166,324.4 L172.5,331.6 L179.4,333.9 L186.2,334.5 L192.8,334.9 L199.3,335.3 L206.1,335.3 L213.5,335.8 L220.6,336.3 L228.4,336.6 L236.3,337 L243.4,337.6" fill="none" stroke="#1e1e1e" stroke-width="1" stroke-linejoin="round"/>
<circle cx="33.3" cy="349.5" r="1.15" fill="#666" stroke="#111" stroke-width="0.75"/>
<circle cx="37.9" cy="344.2" r="1.15" fill="#666" stroke="#111" stroke-width="0.75"/>
<circle cx="42.7" cy="339.5" r="1.15" fill="#666" stroke="#111" stroke-width="0.75"/>
<circle cx="47.7" cy="334.6" r="1.15" fill="#666" stroke="#111" stroke-width="0.75"/>
<circle cx="52.7" cy="330" r="1.15" fill="#666" stroke="#111" stroke-width="0.75"/>
<circle cx="57.6" cy="325.4" r="1.15" fill="#666" stroke="#111" stroke-width="0.75"/>
<circle cx="62.5" cy="320.8" r="1.15" fill="#666" stroke="#111" stroke-width="0.75"/>
<circle cx="67.7" cy="316.2" r="1.15" fill="#666" stroke="#111" stroke-width="0.75"/>
<circle cx="73" cy="311.6" r="1.15" fill="#666" stroke="#111" stroke-width="0.75"/>
<circle cx="78.2" cy="307.3" r="1.15" fill="#666" stroke="#111" stroke-width="0.75"/>
<circle cx="83.4" cy="302.8" r="1.15" fill="#666" stroke="#111" stroke-width="0.75"/>
<circle cx="88.8" cy="298.7" r="1.15" fill="#666" stroke="#111" stroke-width="0.75"/>
<circle cx="94.7" cy="294.5" r="1.15" fill="#666" stroke="#111" stroke-width="0.75"/>
<circle cx="100.7" cy="290" r="1.15" fill="#666" stroke="#111" stroke-width="0.75"/>
<circle cx="106.3" cy="286" r="1.15" fill="#666" stroke="#111" stroke-width="0.75"/>
<circle cx="112.1" cy="281.7" r="1.15" fill="#666" stroke="#111" stroke-width="0.75"/>
<circle cx="117.8" cy="277.8" r="1.15" fill="#666" stroke="#111" stroke-width="0.75"/>
<circle cx="123.7" cy="273.8" r="1.15" fill="#666" stroke="#111" stroke-width="0.75"/>
<circle cx="130" cy="269.5" r="1.15" fill="#666" stroke="#111" stroke-width="0.75"/>
<circle cx="136" cy="288.8" r="1.15" fill="#666" stroke="#111" stroke-width="0.75"/>
<circle cx="142.1" cy="292.9" r="1.15" fill="#666" stroke="#111" stroke-width="0.75"/>
<circle cx="148.3" cy="296.3" r="1.15" fill="#666" stroke="#111" stroke-width="0.75"/>
<circle cx="153" cy="298.3" r="1.15" fill="#666" stroke="#111" stroke-width="0.75"/>
<circle cx="159.2" cy="324.8" r="1.15" fill="#666" stroke="#111" stroke-width="0.75"/>
<circle cx="166" cy="324.4" r="1.15" fill="#666" stroke="#111" stroke-width="0.75"/>
<circle cx="172.5" cy="331.6" r="1.15" fill="#666" stroke="#111" stroke-width="0.75"/>
<circle cx="179.4" cy="333.9" r="1.15" fill="#666" stroke="#111" stroke-width="0.75"/>
<circle cx="186.2" cy="334.5" r="1.15" fill="#666" stroke="#111" stroke-width="0.75"/>
<circle cx="192.8" cy="334.9" r="1.15" fill="#666" stroke="#111" stroke-width="0.75"/>
<circle cx="199.3" cy="335.3" r="1.15" fill="#666" stroke="#111" stroke-width="0.75"/>
<circle cx="206.1" cy="335.3" r="1.15" fill="#666" stroke="#111" stroke-width="0.75"/>
<circle cx="213.5" cy="335.8" r="1.15" fill="#666" stroke="#111" stroke-width="0.75"/>
<circle cx="220.6" cy="336.3" r="1.15" fill="#666" stroke="#111" stroke-width="0.75"/>
<circle cx="228.4" cy="336.6" r="1.15" fill="#666" stroke="#111" stroke-width="0.75"/>
<circle cx="236.3" cy="337" r="1.15" fill="#666" stroke="#111" stroke-width="0.75"/>
<circle cx="243.4" cy="337.6" r="1.15" fill="#666" stroke="#111" stroke-width="0.75"/>
<path d="M28.7,354 L33.3,353.9 L37.9,353.6 L42.7,353.1 L47.7,352.35 L52.7,351.12 L57.6,350.1 L62.5,348.7 L67.7,347 L73,345.2 L78.2,343.34 L83.4,341.39 L88.8,339.07 L94.7,336.8 L100.7,333.89 L106.3,330.7 L112.1,327.5 L117.8,324.36 L123.7,321.11 L130,317.52 L136,313.89 L142.1,310.54 L148.3,307.02 L153,302.78 L159.2,299.85 L166,297.7 L172.5,295 L179.4,293.94 L186.2,292.05 L192.8,290.46 L199.3,289.1 L206.1,287 L213.5,285.4 L220.6,283.8 L228.4,282.3 L236.3,281 L243.4,279.4" fill="none" stroke="#f98a58" stroke-width="0.9" stroke-opacity="0.75" stroke-dasharray="1.6,1.4" /><rect x="27.3" y="352.9" width="2.8" height="2.2" fill="#f98a58"/><rect x="31.9" y="352.8" width="2.8" height="2.2" fill="#f98a58"/><rect x="36.5" y="352.5" width="2.8" height="2.2" fill="#f98a58"/><rect x="41.3" y="352" width="2.8" height="2.2" fill="#f98a58"/><rect x="46.3" y="351.25" width="2.8" height="2.2" fill="#f98a58"/><rect x="51.3" y="350.02" width="2.8" height="2.2" fill="#f98a58"/><rect x="56.2" y="349" width="2.8" height="2.2" fill="#f98a58"/><rect x="61.1" y="347.6" width="2.8" height="2.2" fill="#f98a58"/><rect x="66.3" y="345.9" width="2.8" height="2.2" fill="#f98a58"/><rect x="71.6" y="344.1" width="2.8" height="2.2" fill="#f98a58"/><rect x="76.8" y="342.24" width="2.8" height="2.2" fill="#f98a58"/><rect x="82" y="340.29" width="2.8" height="2.2" fill="#f98a58"/><rect x="87.4" y="337.97" width="2.8" height="2.2" fill="#f98a58"/><rect x="93.3" y="335.7" width="2.8" height="2.2" fill="#f98a58"/><rect x="99.3" y="332.79" width="2.8" height="2.2" fill="#f98a58"/><rect x="104.9" y="329.6" width="2.8" height="2.2" fill="#f98a58"/><rect x="110.7" y="326.4" width="2.8" height="2.2" fill="#f98a58"/><rect x="116.4" y="323.26" width="2.8" height="2.2" fill="#f98a58"/><rect x="122.3" y="320.01" width="2.8" height="2.2" fill="#f98a58"/><rect x="128.6" y="316.42" width="2.8" height="2.2" fill="#f98a58"/><rect x="134.6" y="312.79" width="2.8" height="2.2" fill="#f98a58"/><rect x="140.7" y="309.44" width="2.8" height="2.2" fill="#f98a58"/><rect x="146.9" y="305.92" width="2.8" height="2.2" fill="#f98a58"/><rect x="151.6" y="301.68" width="2.8" height="2.2" fill="#f98a58"/><rect x="157.8" y="298.75" width="2.8" height="2.2" fill="#f98a58"/><rect x="164.6" y="296.6" width="2.8" height="2.2" fill="#f98a58"/><rect x="171.1" y="293.9" width="2.8" height="2.2" fill="#f98a58"/><rect x="178" y="292.84" width="2.8" height="2.2" fill="#f98a58"/><rect x="184.8" y="290.95" width="2.8" height="2.2" fill="#f98a58"/><rect x="191.4" y="289.36" width="2.8" height="2.2" fill="#f98a58"/><rect x="197.9" y="288" width="2.8" height="2.2" fill="#f98a58"/><rect x="204.7" y="285.9" width="2.8" height="2.2" fill="#f98a58"/><rect x="212.1" y="284.3" width="2.8" height="2.2" fill="#f98a58"/><rect x="219.2" y="282.7" width="2.8" height="2.2" fill="#f98a58"/><rect x="227" y="281.2" width="2.8" height="2.2" fill="#f98a58"/><rect x="234.9" y="279.9" width="2.8" height="2.2" fill="#f98a58"/><rect x="242" y="278.3" width="2.8" height="2.2" fill="#f98a58"/>
<path d="M28.7,354 L33.3,353.95 L37.9,353.8 L42.7,353.5 L47.7,352.97 L52.7,352.22 L57.6,351.2 L62.5,349.7 L67.7,348.2 L73,346.8 L78.2,345.13 L83.4,343.73 L88.8,341.94 L94.7,340 L100.7,337.84 L106.3,336.2 L112.1,334 L117.8,331.84 L123.7,329.7 L130,327.17 L136,337.97 L142.1,340.22 L148.3,341.2 L153,342.58 L159.2,350.14 L166,351.5 L172.5,352.2 L179.4,352.24 L186.2,352.28 L192.8,352.31 L199.3,352.35 L206.1,352.39 L213.5,352.43 L220.6,352.47 L228.4,352.52 L236.3,352.56 L243.4,352.6" fill="none" stroke="#33c6a3" stroke-width="0.9" stroke-opacity="0.75" stroke-dasharray="1.6,1.4" /><rect x="27.3" y="352.9" width="2.8" height="2.2" fill="#33c6a3"/><rect x="31.9" y="352.85" width="2.8" height="2.2" fill="#33c6a3"/><rect x="36.5" y="352.7" width="2.8" height="2.2" fill="#33c6a3"/><rect x="41.3" y="352.4" width="2.8" height="2.2" fill="#33c6a3"/><rect x="46.3" y="351.87" width="2.8" height="2.2" fill="#33c6a3"/><rect x="51.3" y="351.12" width="2.8" height="2.2" fill="#33c6a3"/><rect x="56.2" y="350.1" width="2.8" height="2.2" fill="#33c6a3"/><rect x="61.1" y="348.6" width="2.8" height="2.2" fill="#33c6a3"/><rect x="66.3" y="347.1" width="2.8" height="2.2" fill="#33c6a3"/><rect x="71.6" y="345.7" width="2.8" height="2.2" fill="#33c6a3"/><rect x="76.8" y="344.03" width="2.8" height="2.2" fill="#33c6a3"/><rect x="82" y="342.63" width="2.8" height="2.2" fill="#33c6a3"/><rect x="87.4" y="340.84" width="2.8" height="2.2" fill="#33c6a3"/><rect x="93.3" y="338.9" width="2.8" height="2.2" fill="#33c6a3"/><rect x="99.3" y="336.74" width="2.8" height="2.2" fill="#33c6a3"/><rect x="104.9" y="335.1" width="2.8" height="2.2" fill="#33c6a3"/><rect x="110.7" y="332.9" width="2.8" height="2.2" fill="#33c6a3"/><rect x="116.4" y="330.74" width="2.8" height="2.2" fill="#33c6a3"/><rect x="122.3" y="328.6" width="2.8" height="2.2" fill="#33c6a3"/><rect x="128.6" y="326.07" width="2.8" height="2.2" fill="#33c6a3"/><rect x="134.6" y="336.87" width="2.8" height="2.2" fill="#33c6a3"/><rect x="140.7" y="339.12" width="2.8" height="2.2" fill="#33c6a3"/><rect x="146.9" y="340.1" width="2.8" height="2.2" fill="#33c6a3"/><rect x="151.6" y="341.48" width="2.8" height="2.2" fill="#33c6a3"/><rect x="157.8" y="349.04" width="2.8" height="2.2" fill="#33c6a3"/><rect x="164.6" y="350.4" width="2.8" height="2.2" fill="#33c6a3"/><rect x="171.1" y="351.1" width="2.8" height="2.2" fill="#33c6a3"/><rect x="178" y="351.14" width="2.8" height="2.2" fill="#33c6a3"/><rect x="184.8" y="351.18" width="2.8" height="2.2" fill="#33c6a3"/><rect x="191.4" y="351.21" width="2.8" height="2.2" fill="#33c6a3"/><rect x="197.9" y="351.25" width="2.8" height="2.2" fill="#33c6a3"/><rect x="204.7" y="351.29" width="2.8" height="2.2" fill="#33c6a3"/><rect x="212.1" y="351.33" width="2.8" height="2.2" fill="#33c6a3"/><rect x="219.2" y="351.37" width="2.8" height="2.2" fill="#33c6a3"/><rect x="227" y="351.42" width="2.8" height="2.2" fill="#33c6a3"/><rect x="234.9" y="351.46" width="2.8" height="2.2" fill="#33c6a3"/><rect x="242" y="351.5" width="2.8" height="2.2" fill="#33c6a3"/>
<path d="M28.7,354 L33.3,353.2 L37.9,353.12 L42.7,353.04 L47.7,352.95 L52.7,352.87 L57.6,352.78 L62.5,352.7 L67.7,352.61 L73,352.52 L78.2,352.43 L83.4,352.07 L88.8,351.54 L94.7,350.46 L100.7,349.88 L106.3,349.2 L112.1,348 L117.8,347.02 L123.7,345.65 L130,343.39 L136,329.55 L142.1,324.81 L148.3,319.39 L153,314.42 L159.2,303.68 L166,301 L172.5,297.4 L179.4,295.25 L186.2,293.65 L192.8,292.16 L199.3,290.9 L206.1,288.9 L213.5,287.4 L220.6,285.9 L228.4,284.3 L236.3,282.9 L243.4,281.2" fill="none" stroke="#8a9ddc" stroke-width="0.9" stroke-opacity="0.75" stroke-dasharray="1.6,1.4" /><rect x="27.3" y="352.9" width="2.8" height="2.2" fill="#8a9ddc"/><rect x="31.9" y="352.1" width="2.8" height="2.2" fill="#8a9ddc"/><rect x="36.5" y="352.02" width="2.8" height="2.2" fill="#8a9ddc"/><rect x="41.3" y="351.94" width="2.8" height="2.2" fill="#8a9ddc"/><rect x="46.3" y="351.85" width="2.8" height="2.2" fill="#8a9ddc"/><rect x="51.3" y="351.77" width="2.8" height="2.2" fill="#8a9ddc"/><rect x="56.2" y="351.68" width="2.8" height="2.2" fill="#8a9ddc"/><rect x="61.1" y="351.6" width="2.8" height="2.2" fill="#8a9ddc"/><rect x="66.3" y="351.51" width="2.8" height="2.2" fill="#8a9ddc"/><rect x="71.6" y="351.42" width="2.8" height="2.2" fill="#8a9ddc"/><rect x="76.8" y="351.33" width="2.8" height="2.2" fill="#8a9ddc"/><rect x="82" y="350.97" width="2.8" height="2.2" fill="#8a9ddc"/><rect x="87.4" y="350.44" width="2.8" height="2.2" fill="#8a9ddc"/><rect x="93.3" y="349.36" width="2.8" height="2.2" fill="#8a9ddc"/><rect x="99.3" y="348.78" width="2.8" height="2.2" fill="#8a9ddc"/><rect x="104.9" y="348.1" width="2.8" height="2.2" fill="#8a9ddc"/><rect x="110.7" y="346.9" width="2.8" height="2.2" fill="#8a9ddc"/><rect x="116.4" y="345.92" width="2.8" height="2.2" fill="#8a9ddc"/><rect x="122.3" y="344.55" width="2.8" height="2.2" fill="#8a9ddc"/><rect x="128.6" y="342.29" width="2.8" height="2.2" fill="#8a9ddc"/><rect x="134.6" y="328.45" width="2.8" height="2.2" fill="#8a9ddc"/><rect x="140.7" y="323.71" width="2.8" height="2.2" fill="#8a9ddc"/><rect x="146.9" y="318.29" width="2.8" height="2.2" fill="#8a9ddc"/><rect x="151.6" y="313.32" width="2.8" height="2.2" fill="#8a9ddc"/><rect x="157.8" y="302.58" width="2.8" height="2.2" fill="#8a9ddc"/><rect x="164.6" y="299.9" width="2.8" height="2.2" fill="#8a9ddc"/><rect x="171.1" y="296.3" width="2.8" height="2.2" fill="#8a9ddc"/><rect x="178" y="294.15" width="2.8" height="2.2" fill="#8a9ddc"/><rect x="184.8" y="292.55" width="2.8" height="2.2" fill="#8a9ddc"/><rect x="191.4" y="291.06" width="2.8" height="2.2" fill="#8a9ddc"/><rect x="197.9" y="289.8" width="2.8" height="2.2" fill="#8a9ddc"/><rect x="204.7" y="287.8" width="2.8" height="2.2" fill="#8a9ddc"/><rect x="212.1" y="286.3" width="2.8" height="2.2" fill="#8a9ddc"/><rect x="219.2" y="284.8" width="2.8" height="2.2" fill="#8a9ddc"/><rect x="227" y="283.2" width="2.8" height="2.2" fill="#8a9ddc"/><rect x="234.9" y="281.8" width="2.8" height="2.2" fill="#8a9ddc"/><rect x="242" y="280.1" width="2.8" height="2.2" fill="#8a9ddc"/>
<line x1="40.9" y1="280.2" x2="54.5" y2="280.2" stroke="#1e1e1e" stroke-width="1"/>
<circle cx="47.7" cy="280.2" r="1.15" fill="#666" stroke="#111" stroke-width="0.75"/>
<text style="stroke-width:0.22px" transform="translate(57,282.35) scale(0.97,1.0)" font-size="6.3">Stress</text>
<line x1="40.9" y1="286.7" x2="43.7" y2="286.7" stroke="#f98a58" stroke-opacity="0.75" stroke-width="1"/>
<line x1="51.7" y1="286.7" x2="54.5" y2="286.7" stroke="#f98a58" stroke-opacity="0.75" stroke-width="1"/>
<rect x="46.1" y="285.45" width="3.2" height="2.5" fill="#f98a58"/>
<text style="stroke-width:0.22px" transform="translate(57,288.85) scale(0.97,1.0)" font-size="6.3">TAE</text>
<line x1="40.9" y1="294" x2="43.7" y2="294" stroke="#33c6a3" stroke-opacity="0.75" stroke-width="1"/>
<line x1="51.7" y1="294" x2="54.5" y2="294" stroke="#33c6a3" stroke-opacity="0.75" stroke-width="1"/>
<rect x="46.1" y="292.75" width="3.2" height="2.5" fill="#33c6a3"/>
<text style="stroke-width:0.22px" transform="translate(57,296.15) scale(0.97,1.0)" font-size="6.3">ESE</text>
<line x1="40.9" y1="301.8" x2="43.7" y2="301.8" stroke="#8a9ddc" stroke-opacity="0.75" stroke-width="1"/>
<line x1="51.7" y1="301.8" x2="54.5" y2="301.8" stroke="#8a9ddc" stroke-opacity="0.75" stroke-width="1"/>
<rect x="46.1" y="300.55" width="3.2" height="2.5" fill="#8a9ddc"/>
<text style="stroke-width:0.22px" transform="translate(57,303.95) scale(0.97,1.0)" font-size="6.3">CDE</text>
<rect x="296.5" y="260.9" width="222.1" height="93.1" fill="none" stroke="#7a7a7a" stroke-width="1.4"/>
<line x1="296.5" y1="354" x2="296.5" y2="356.2" stroke="#7a7a7a" stroke-width="1"/>
<text transform="translate(296.5,364.15) scale(1.0,1.14)" text-anchor="middle" font-size="7.4">0.000</text>
<line x1="352.02" y1="354" x2="352.02" y2="356.2" stroke="#7a7a7a" stroke-width="1"/>
<text transform="translate(352.02,364.15) scale(1.0,1.14)" text-anchor="middle" font-size="7.4">0.004</text>
<line x1="407.55" y1="354" x2="407.55" y2="356.2" stroke="#7a7a7a" stroke-width="1"/>
<text transform="translate(407.55,364.15) scale(1.0,1.14)" text-anchor="middle" font-size="7.4">0.008</text>
<line x1="463.08" y1="354" x2="463.08" y2="356.2" stroke="#7a7a7a" stroke-width="1"/>
<text transform="translate(463.08,364.15) scale(1.0,1.14)" text-anchor="middle" font-size="7.4">0.012</text>
<line x1="518.6" y1="354" x2="518.6" y2="356.2" stroke="#7a7a7a" stroke-width="1"/>
<text transform="translate(518.6,364.15) scale(1.0,1.14)" text-anchor="middle" font-size="7.4">0.016</text>
<line x1="324.26" y1="354" x2="324.26" y2="355.2" stroke="#333" stroke-width="0.9"/>
<line x1="379.79" y1="354" x2="379.79" y2="355.2" stroke="#333" stroke-width="0.9"/>
<line x1="435.31" y1="354" x2="435.31" y2="355.2" stroke="#333" stroke-width="0.9"/>
<line x1="490.84" y1="354" x2="490.84" y2="355.2" stroke="#333" stroke-width="0.9"/>
<line x1="294.1" y1="354" x2="296.5" y2="354" stroke="#7a7a7a" stroke-width="1"/>
<text transform="translate(293.1,356.8) scale(1.0,1.14)" text-anchor="end" font-size="7.35">0</text>
<line x1="294.1" y1="327.4" x2="296.5" y2="327.4" stroke="#7a7a7a" stroke-width="1"/>
<text transform="translate(293.1,330.2) scale(1.0,1.14)" text-anchor="end" font-size="7.35">20</text>
<line x1="294.1" y1="300.8" x2="296.5" y2="300.8" stroke="#7a7a7a" stroke-width="1"/>
<text transform="translate(293.1,303.6) scale(1.0,1.14)" text-anchor="end" font-size="7.35">40</text>
<line x1="294.1" y1="274.2" x2="296.5" y2="274.2" stroke="#7a7a7a" stroke-width="1"/>
<text transform="translate(293.1,277) scale(1.0,1.14)" text-anchor="end" font-size="7.35">60</text>
<line x1="295.5" y1="340.7" x2="296.8" y2="340.7" stroke="#333" stroke-width="0.9"/>
<line x1="295.5" y1="314.1" x2="296.8" y2="314.1" stroke="#333" stroke-width="0.9"/>
<line x1="295.5" y1="287.5" x2="296.8" y2="287.5" stroke="#333" stroke-width="0.9"/>
<line x1="295.5" y1="260.9" x2="296.8" y2="260.9" stroke="#333" stroke-width="0.9"/>
<line x1="516" y1="354" x2="518.6" y2="354" stroke="#7a7a7a" stroke-width="1"/>
<text transform="translate(521,356.6) scale(1.0,1.03)" font-size="7.3">0.0</text>
<line x1="516" y1="322.97" x2="518.6" y2="322.97" stroke="#7a7a7a" stroke-width="1"/>
<text transform="translate(521,325.57) scale(1.0,1.03)" font-size="7.3">0.2</text>
<line x1="516" y1="291.93" x2="518.6" y2="291.93" stroke="#7a7a7a" stroke-width="1"/>
<text transform="translate(521,294.53) scale(1.0,1.03)" font-size="7.3">0.4</text>
<line x1="516" y1="260.9" x2="518.6" y2="260.9" stroke="#7a7a7a" stroke-width="1"/>
<text transform="translate(521,263.5) scale(1.0,1.03)" font-size="7.3">0.6</text>
<line x1="517.4" y1="338.48" x2="518.6" y2="338.48" stroke="#333" stroke-width="0.9"/>
<line x1="517.4" y1="307.45" x2="518.6" y2="307.45" stroke="#333" stroke-width="0.9"/>
<line x1="517.4" y1="276.42" x2="518.6" y2="276.42" stroke="#333" stroke-width="0.9"/>
<text transform="translate(407.55,374.35) scale(1.0,1.06)" text-anchor="middle" font-size="7.25">Axial strain</text>
<text transform="translate(280.8,307.45) rotate(-90) scale(1.0,1.12)" text-anchor="middle" font-size="7.2">Stress (MPa)</text>
<text transform="translate(538.2,307.95) rotate(-90) scale(1.0,1.1)" text-anchor="middle" font-size="7.25">Energy parameters (MPa)</text>
<text style="stroke-width:0.32px;letter-spacing:0.3px" transform="translate(299.4,271.8) scale(1.0,0.92)" font-size="9.3">(f)</text>
<path d="M296.5,354 L301.3,349.7 L306.8,344.7 L312.1,340.3 L317.7,335.5 L323.4,331.1 L329.2,326.7 L334.8,322.4 L341,317.9 L347.1,313.6 L353.2,309.6 L359.5,305.5 L366.2,300.8 L372.4,296.8 L379,292.6 L385.5,288.7 L392.5,285 L399.5,281.3 L406.3,277.4 L413.6,273.5 L420.6,283.4 L428,315.2 L435.6,319.1 L441.4,320.5 L448.9,326 L456.9,327.2 L464.6,332.6 L472.4,333.9 L480.4,334.2 L488.7,334.6 L497.1,335.2 L505.6,335.6 L514.2,336.1" fill="none" stroke="#1e1e1e" stroke-width="1" stroke-linejoin="round"/>
<circle cx="301.3" cy="349.7" r="1.15" fill="#666" stroke="#111" stroke-width="0.75"/>
<circle cx="306.8" cy="344.7" r="1.15" fill="#666" stroke="#111" stroke-width="0.75"/>
<circle cx="312.1" cy="340.3" r="1.15" fill="#666" stroke="#111" stroke-width="0.75"/>
<circle cx="317.7" cy="335.5" r="1.15" fill="#666" stroke="#111" stroke-width="0.75"/>
<circle cx="323.4" cy="331.1" r="1.15" fill="#666" stroke="#111" stroke-width="0.75"/>
<circle cx="329.2" cy="326.7" r="1.15" fill="#666" stroke="#111" stroke-width="0.75"/>
<circle cx="334.8" cy="322.4" r="1.15" fill="#666" stroke="#111" stroke-width="0.75"/>
<circle cx="341" cy="317.9" r="1.15" fill="#666" stroke="#111" stroke-width="0.75"/>
<circle cx="347.1" cy="313.6" r="1.15" fill="#666" stroke="#111" stroke-width="0.75"/>
<circle cx="353.2" cy="309.6" r="1.15" fill="#666" stroke="#111" stroke-width="0.75"/>
<circle cx="359.5" cy="305.5" r="1.15" fill="#666" stroke="#111" stroke-width="0.75"/>
<circle cx="366.2" cy="300.8" r="1.15" fill="#666" stroke="#111" stroke-width="0.75"/>
<circle cx="372.4" cy="296.8" r="1.15" fill="#666" stroke="#111" stroke-width="0.75"/>
<circle cx="379" cy="292.6" r="1.15" fill="#666" stroke="#111" stroke-width="0.75"/>
<circle cx="385.5" cy="288.7" r="1.15" fill="#666" stroke="#111" stroke-width="0.75"/>
<circle cx="392.5" cy="285" r="1.15" fill="#666" stroke="#111" stroke-width="0.75"/>
<circle cx="399.5" cy="281.3" r="1.15" fill="#666" stroke="#111" stroke-width="0.75"/>
<circle cx="406.3" cy="277.4" r="1.15" fill="#666" stroke="#111" stroke-width="0.75"/>
<circle cx="413.6" cy="273.5" r="1.15" fill="#666" stroke="#111" stroke-width="0.75"/>
<circle cx="420.6" cy="283.4" r="1.15" fill="#666" stroke="#111" stroke-width="0.75"/>
<circle cx="428" cy="315.2" r="1.15" fill="#666" stroke="#111" stroke-width="0.75"/>
<circle cx="435.6" cy="319.1" r="1.15" fill="#666" stroke="#111" stroke-width="0.75"/>
<circle cx="441.4" cy="320.5" r="1.15" fill="#666" stroke="#111" stroke-width="0.75"/>
<circle cx="448.9" cy="326" r="1.15" fill="#666" stroke="#111" stroke-width="0.75"/>
<circle cx="456.9" cy="327.2" r="1.15" fill="#666" stroke="#111" stroke-width="0.75"/>
<circle cx="464.6" cy="332.6" r="1.15" fill="#666" stroke="#111" stroke-width="0.75"/>
<circle cx="472.4" cy="333.9" r="1.15" fill="#666" stroke="#111" stroke-width="0.75"/>
<circle cx="480.4" cy="334.2" r="1.15" fill="#666" stroke="#111" stroke-width="0.75"/>
<circle cx="488.7" cy="334.6" r="1.15" fill="#666" stroke="#111" stroke-width="0.75"/>
<circle cx="497.1" cy="335.2" r="1.15" fill="#666" stroke="#111" stroke-width="0.75"/>
<circle cx="505.6" cy="335.6" r="1.15" fill="#666" stroke="#111" stroke-width="0.75"/>
<circle cx="514.2" cy="336.1" r="1.15" fill="#666" stroke="#111" stroke-width="0.75"/>
<path d="M296.5,354 L301.3,353.7 L306.8,353.1 L312.1,352.4 L317.7,351.4 L323.4,350.4 L329.2,349.1 L334.8,347.1 L341,345.1 L347.1,343.2 L353.2,340.5 L359.5,337.85 L366.2,334.59 L372.4,331.39 L379,327.64 L385.5,324.17 L392.5,320.3 L399.5,316.02 L406.3,311.34 L413.6,305.68 L420.6,300.87 L428,296.91 L435.6,293.82 L441.4,287.7 L448.9,284.59 L456.9,281.59 L464.6,277.71 L472.4,275.37 L480.4,273.28 L488.7,271.6 L497.1,269.2 L505.6,267 L514.2,264.7" fill="none" stroke="#f98a58" stroke-width="0.9" stroke-opacity="0.75" stroke-dasharray="1.6,1.4" /><rect x="295.1" y="352.9" width="2.8" height="2.2" fill="#f98a58"/><rect x="299.9" y="352.6" width="2.8" height="2.2" fill="#f98a58"/><rect x="305.4" y="352" width="2.8" height="2.2" fill="#f98a58"/><rect x="310.7" y="351.3" width="2.8" height="2.2" fill="#f98a58"/><rect x="316.3" y="350.3" width="2.8" height="2.2" fill="#f98a58"/><rect x="322" y="349.3" width="2.8" height="2.2" fill="#f98a58"/><rect x="327.8" y="348" width="2.8" height="2.2" fill="#f98a58"/><rect x="333.4" y="346" width="2.8" height="2.2" fill="#f98a58"/><rect x="339.6" y="344" width="2.8" height="2.2" fill="#f98a58"/><rect x="345.7" y="342.1" width="2.8" height="2.2" fill="#f98a58"/><rect x="351.8" y="339.4" width="2.8" height="2.2" fill="#f98a58"/><rect x="358.1" y="336.75" width="2.8" height="2.2" fill="#f98a58"/><rect x="364.8" y="333.49" width="2.8" height="2.2" fill="#f98a58"/><rect x="371" y="330.29" width="2.8" height="2.2" fill="#f98a58"/><rect x="377.6" y="326.54" width="2.8" height="2.2" fill="#f98a58"/><rect x="384.1" y="323.07" width="2.8" height="2.2" fill="#f98a58"/><rect x="391.1" y="319.2" width="2.8" height="2.2" fill="#f98a58"/><rect x="398.1" y="314.92" width="2.8" height="2.2" fill="#f98a58"/><rect x="404.9" y="310.24" width="2.8" height="2.2" fill="#f98a58"/><rect x="412.2" y="304.58" width="2.8" height="2.2" fill="#f98a58"/><rect x="419.2" y="299.77" width="2.8" height="2.2" fill="#f98a58"/><rect x="426.6" y="295.81" width="2.8" height="2.2" fill="#f98a58"/><rect x="434.2" y="292.72" width="2.8" height="2.2" fill="#f98a58"/><rect x="440" y="286.6" width="2.8" height="2.2" fill="#f98a58"/><rect x="447.5" y="283.49" width="2.8" height="2.2" fill="#f98a58"/><rect x="455.5" y="280.49" width="2.8" height="2.2" fill="#f98a58"/><rect x="463.2" y="276.61" width="2.8" height="2.2" fill="#f98a58"/><rect x="471" y="274.27" width="2.8" height="2.2" fill="#f98a58"/><rect x="479" y="272.18" width="2.8" height="2.2" fill="#f98a58"/><rect x="487.3" y="270.5" width="2.8" height="2.2" fill="#f98a58"/><rect x="495.7" y="268.1" width="2.8" height="2.2" fill="#f98a58"/><rect x="504.2" y="265.9" width="2.8" height="2.2" fill="#f98a58"/><rect x="512.8" y="263.6" width="2.8" height="2.2" fill="#f98a58"/>
<path d="M296.5,354 L301.3,353.8 L306.8,353.5 L312.1,353 L317.7,352.3 L323.4,351.5 L329.2,350.2 L334.8,347.8 L341,346.4 L347.1,344.5 L353.2,342.5 L359.5,340.28 L366.2,338.58 L372.4,335.83 L379,333.5 L385.5,331.27 L392.5,328.2 L399.5,325.75 L406.3,322.59 L413.6,318.9 L420.6,326.68 L428,346 L435.6,347 L441.4,347.8 L448.9,349.9 L456.9,350.4 L464.6,350.9 L472.4,351.4 L480.4,351.51 L488.7,351.63 L497.1,351.75 L505.6,351.88 L514.2,352" fill="none" stroke="#33c6a3" stroke-width="0.9" stroke-opacity="0.75" stroke-dasharray="1.6,1.4" /><rect x="295.1" y="352.9" width="2.8" height="2.2" fill="#33c6a3"/><rect x="299.9" y="352.7" width="2.8" height="2.2" fill="#33c6a3"/><rect x="305.4" y="352.4" width="2.8" height="2.2" fill="#33c6a3"/><rect x="310.7" y="351.9" width="2.8" height="2.2" fill="#33c6a3"/><rect x="316.3" y="351.2" width="2.8" height="2.2" fill="#33c6a3"/><rect x="322" y="350.4" width="2.8" height="2.2" fill="#33c6a3"/><rect x="327.8" y="349.1" width="2.8" height="2.2" fill="#33c6a3"/><rect x="333.4" y="346.7" width="2.8" height="2.2" fill="#33c6a3"/><rect x="339.6" y="345.3" width="2.8" height="2.2" fill="#33c6a3"/><rect x="345.7" y="343.4" width="2.8" height="2.2" fill="#33c6a3"/><rect x="351.8" y="341.4" width="2.8" height="2.2" fill="#33c6a3"/><rect x="358.1" y="339.18" width="2.8" height="2.2" fill="#33c6a3"/><rect x="364.8" y="337.48" width="2.8" height="2.2" fill="#33c6a3"/><rect x="371" y="334.73" width="2.8" height="2.2" fill="#33c6a3"/><rect x="377.6" y="332.4" width="2.8" height="2.2" fill="#33c6a3"/><rect x="384.1" y="330.17" width="2.8" height="2.2" fill="#33c6a3"/><rect x="391.1" y="327.1" width="2.8" height="2.2" fill="#33c6a3"/><rect x="398.1" y="324.65" width="2.8" height="2.2" fill="#33c6a3"/><rect x="404.9" y="321.49" width="2.8" height="2.2" fill="#33c6a3"/><rect x="412.2" y="317.8" width="2.8" height="2.2" fill="#33c6a3"/><rect x="419.2" y="325.58" width="2.8" height="2.2" fill="#33c6a3"/><rect x="426.6" y="344.9" width="2.8" height="2.2" fill="#33c6a3"/><rect x="434.2" y="345.9" width="2.8" height="2.2" fill="#33c6a3"/><rect x="440" y="346.7" width="2.8" height="2.2" fill="#33c6a3"/><rect x="447.5" y="348.8" width="2.8" height="2.2" fill="#33c6a3"/><rect x="455.5" y="349.3" width="2.8" height="2.2" fill="#33c6a3"/><rect x="463.2" y="349.8" width="2.8" height="2.2" fill="#33c6a3"/><rect x="471" y="350.3" width="2.8" height="2.2" fill="#33c6a3"/><rect x="479" y="350.41" width="2.8" height="2.2" fill="#33c6a3"/><rect x="487.3" y="350.53" width="2.8" height="2.2" fill="#33c6a3"/><rect x="495.7" y="350.65" width="2.8" height="2.2" fill="#33c6a3"/><rect x="504.2" y="350.78" width="2.8" height="2.2" fill="#33c6a3"/><rect x="512.8" y="350.9" width="2.8" height="2.2" fill="#33c6a3"/>
<path d="M296.5,354 L301.3,353.4 L306.8,353.23 L312.1,353.07 L317.7,352.89 L323.4,352.71 L329.2,352.53 L334.8,352.36 L341,352.13 L347.1,351.7 L353.2,351.3 L359.5,350.79 L366.2,349.85 L372.4,349.16 L379,347.96 L385.5,347.07 L392.5,345.6 L399.5,344.07 L406.3,342.09 L413.6,339.47 L420.6,327.67 L428,305.6 L435.6,300.36 L441.4,293.3 L448.9,289.11 L456.9,285.26 L464.6,280.73 L472.4,278.07 L480.4,275.57 L488.7,273 L497.1,270.6 L505.6,268.3 L514.2,265.7" fill="none" stroke="#8a9ddc" stroke-width="0.9" stroke-opacity="0.75" stroke-dasharray="1.6,1.4" /><rect x="295.1" y="352.9" width="2.8" height="2.2" fill="#8a9ddc"/><rect x="299.9" y="352.3" width="2.8" height="2.2" fill="#8a9ddc"/><rect x="305.4" y="352.13" width="2.8" height="2.2" fill="#8a9ddc"/><rect x="310.7" y="351.97" width="2.8" height="2.2" fill="#8a9ddc"/><rect x="316.3" y="351.79" width="2.8" height="2.2" fill="#8a9ddc"/><rect x="322" y="351.61" width="2.8" height="2.2" fill="#8a9ddc"/><rect x="327.8" y="351.43" width="2.8" height="2.2" fill="#8a9ddc"/><rect x="333.4" y="351.26" width="2.8" height="2.2" fill="#8a9ddc"/><rect x="339.6" y="351.03" width="2.8" height="2.2" fill="#8a9ddc"/><rect x="345.7" y="350.6" width="2.8" height="2.2" fill="#8a9ddc"/><rect x="351.8" y="350.2" width="2.8" height="2.2" fill="#8a9ddc"/><rect x="358.1" y="349.69" width="2.8" height="2.2" fill="#8a9ddc"/><rect x="364.8" y="348.75" width="2.8" height="2.2" fill="#8a9ddc"/><rect x="371" y="348.06" width="2.8" height="2.2" fill="#8a9ddc"/><rect x="377.6" y="346.86" width="2.8" height="2.2" fill="#8a9ddc"/><rect x="384.1" y="345.97" width="2.8" height="2.2" fill="#8a9ddc"/><rect x="391.1" y="344.5" width="2.8" height="2.2" fill="#8a9ddc"/><rect x="398.1" y="342.97" width="2.8" height="2.2" fill="#8a9ddc"/><rect x="404.9" y="340.99" width="2.8" height="2.2" fill="#8a9ddc"/><rect x="412.2" y="338.37" width="2.8" height="2.2" fill="#8a9ddc"/><rect x="419.2" y="326.57" width="2.8" height="2.2" fill="#8a9ddc"/><rect x="426.6" y="304.5" width="2.8" height="2.2" fill="#8a9ddc"/><rect x="434.2" y="299.26" width="2.8" height="2.2" fill="#8a9ddc"/><rect x="440" y="292.2" width="2.8" height="2.2" fill="#8a9ddc"/><rect x="447.5" y="288.01" width="2.8" height="2.2" fill="#8a9ddc"/><rect x="455.5" y="284.16" width="2.8" height="2.2" fill="#8a9ddc"/><rect x="463.2" y="279.63" width="2.8" height="2.2" fill="#8a9ddc"/><rect x="471" y="276.97" width="2.8" height="2.2" fill="#8a9ddc"/><rect x="479" y="274.47" width="2.8" height="2.2" fill="#8a9ddc"/><rect x="487.3" y="271.9" width="2.8" height="2.2" fill="#8a9ddc"/><rect x="495.7" y="269.5" width="2.8" height="2.2" fill="#8a9ddc"/><rect x="504.2" y="267.2" width="2.8" height="2.2" fill="#8a9ddc"/><rect x="512.8" y="264.6" width="2.8" height="2.2" fill="#8a9ddc"/>
<line x1="308.7" y1="280.2" x2="322.3" y2="280.2" stroke="#1e1e1e" stroke-width="1"/>
<circle cx="315.5" cy="280.2" r="1.15" fill="#666" stroke="#111" stroke-width="0.75"/>
<text style="stroke-width:0.22px" transform="translate(324.8,282.35) scale(0.97,1.0)" font-size="6.3">Stress</text>
<line x1="308.7" y1="286.7" x2="311.5" y2="286.7" stroke="#f98a58" stroke-opacity="0.75" stroke-width="1"/>
<line x1="319.5" y1="286.7" x2="322.3" y2="286.7" stroke="#f98a58" stroke-opacity="0.75" stroke-width="1"/>
<rect x="313.9" y="285.45" width="3.2" height="2.5" fill="#f98a58"/>
<text style="stroke-width:0.22px" transform="translate(324.8,288.85) scale(0.97,1.0)" font-size="6.3">TAE</text>
<line x1="308.7" y1="294" x2="311.5" y2="294" stroke="#33c6a3" stroke-opacity="0.75" stroke-width="1"/>
<line x1="319.5" y1="294" x2="322.3" y2="294" stroke="#33c6a3" stroke-opacity="0.75" stroke-width="1"/>
<rect x="313.9" y="292.75" width="3.2" height="2.5" fill="#33c6a3"/>
<text style="stroke-width:0.22px" transform="translate(324.8,296.15) scale(0.97,1.0)" font-size="6.3">ESE</text>
<line x1="308.7" y1="301.8" x2="311.5" y2="301.8" stroke="#8a9ddc" stroke-opacity="0.75" stroke-width="1"/>
<line x1="319.5" y1="301.8" x2="322.3" y2="301.8" stroke="#8a9ddc" stroke-opacity="0.75" stroke-width="1"/>
<rect x="313.9" y="300.55" width="3.2" height="2.5" fill="#8a9ddc"/>
<text style="stroke-width:0.22px" transform="translate(324.8,303.95) scale(0.97,1.0)" font-size="6.3">CDE</text>
</svg></body></html>
